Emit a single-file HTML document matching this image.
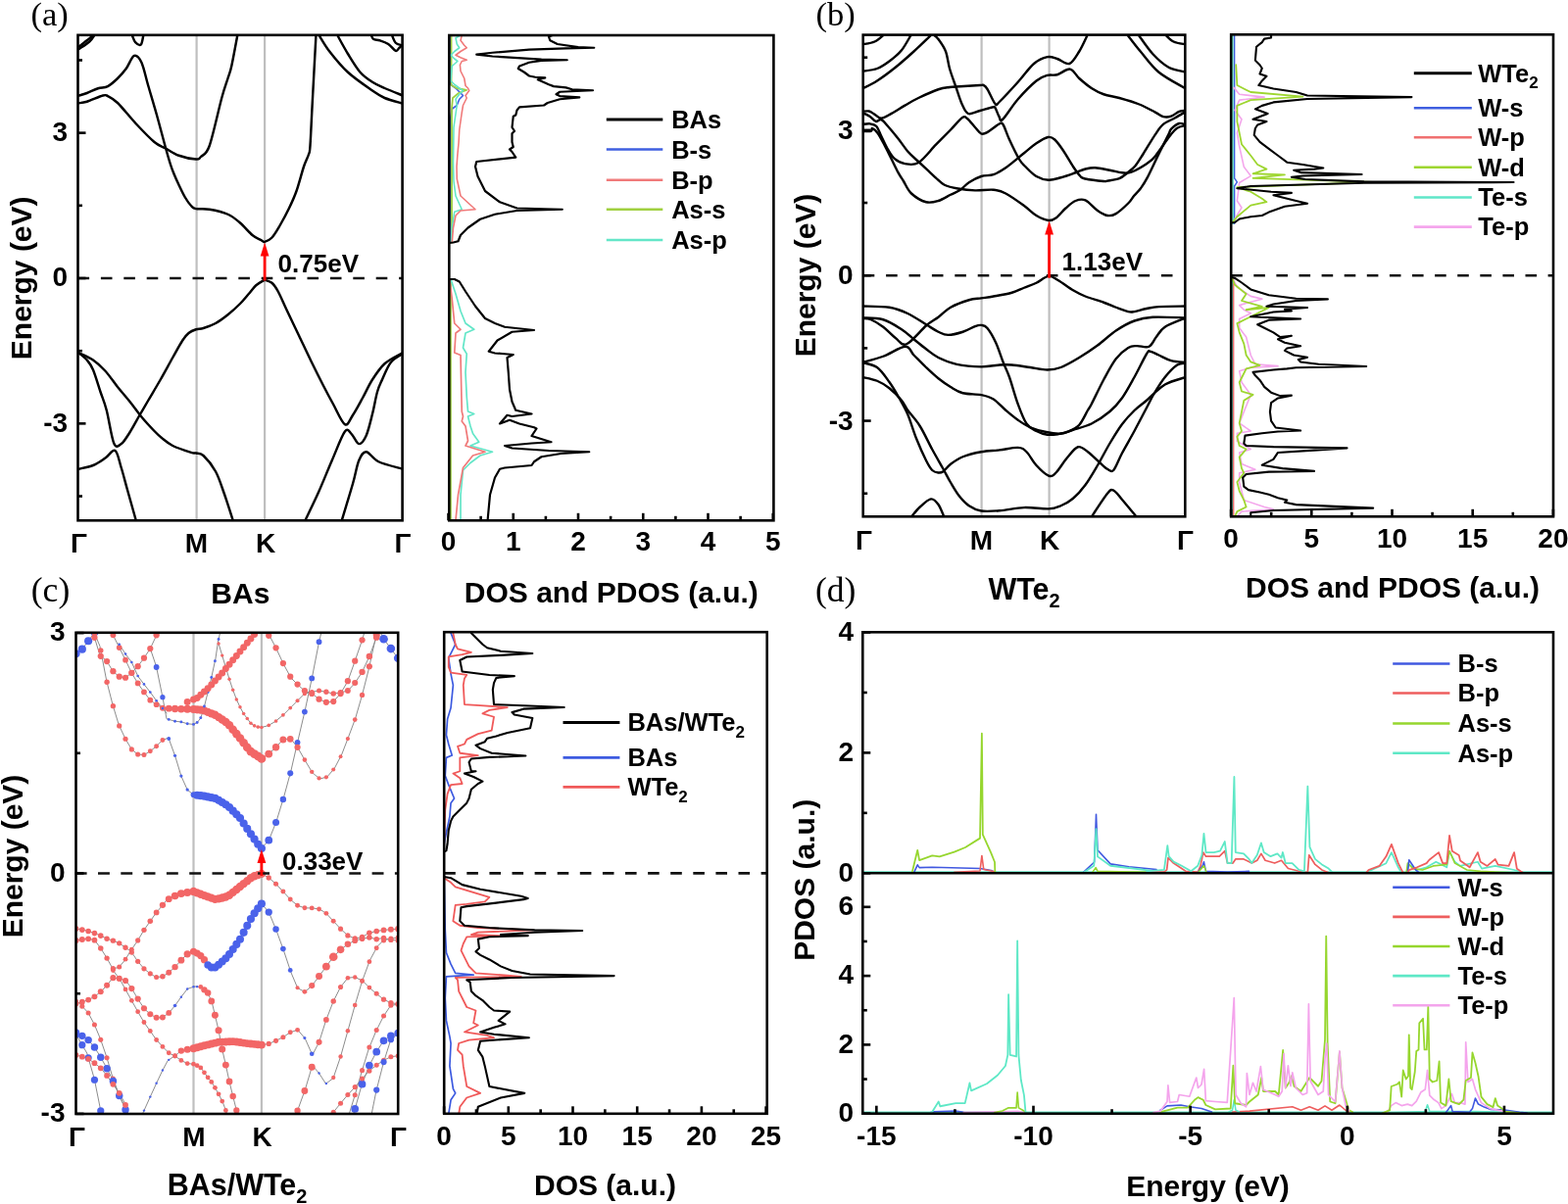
<!DOCTYPE html>
<html><head><meta charset="utf-8"><title>Band structure and DOS</title>
<style>html,body{margin:0;padding:0;background:#fff;}svg{display:block;}</style></head>
<body><svg width="1600" height="1229" viewBox="0 0 1600 1229">
<rect x="0" y="0" width="1600" height="1229" fill="#fff"/>
<clipPath id="ca"><rect x="79.5" y="35.8" width="331.1" height="495.5"/></clipPath>
<g clip-path="url(#ca)">
<line x1="200.6" y1="35.8" x2="200.6" y2="531.3" stroke="#bfbfbf" stroke-width="2.2" />
<line x1="270.1" y1="35.8" x2="270.1" y2="531.3" stroke="#bfbfbf" stroke-width="2.2" />
<path d="M80.6,47.5 C81.96,46.46 86.35,43.17 88.75,41.25 C91.15,39.33 93.96,36.88 95,36" fill="none" stroke="#000" stroke-width="2.45" stroke-linejoin="round" stroke-linecap="round" />
<path d="M80.6,50 C82.38,48.75 88.64,44.83 91.25,42.5 C93.86,40.17 95.42,37.08 96.25,36" fill="none" stroke="#000" stroke-width="2.45" stroke-linejoin="round" stroke-linecap="round" />
<path d="M135,36.5 C135.52,37.6 136.64,41.58 138.1,43.1 C139.56,44.62 142.39,46.7 143.75,45.6 C145.11,44.5 145.83,38.02 146.25,36.5" fill="none" stroke="#000" stroke-width="2.45" stroke-linejoin="round" stroke-linecap="round" />
<path d="M80,97.8 C81.46,97.33 85.42,96.26 88.75,95 C92.08,93.74 96.46,91.4 100,90.25 C103.54,89.1 106.67,89.81 110,88.1 C113.33,86.39 116.88,83.02 120,80 C123.12,76.98 125.93,73.85 128.75,70 C131.57,66.15 134.29,57.94 136.9,56.9 C139.51,55.86 142.01,58.65 144.4,63.75 C146.79,68.85 148.65,78.54 151.25,87.5 C153.85,96.46 157.08,107.08 160,117.5 C162.92,127.92 166.42,141.58 168.75,150 C171.08,158.42 172.54,163.42 174,168 C175.46,172.58 176.08,174.04 177.5,177.5 C178.92,180.96 180.62,184.79 182.5,188.75 C184.38,192.71 186.67,197.71 188.75,201.25 C190.83,204.79 193.12,208.03 195,210 C196.88,211.97 196.88,212.47 200,213.1 C203.12,213.72 208.33,212.81 213.75,213.75 C219.17,214.69 227.29,216.46 232.5,218.75 C237.71,221.04 240.83,223.96 245,227.5 C249.17,231.04 253.96,237.08 257.5,240 C261.04,242.92 264.17,243.85 266.25,245 C268.33,246.15 268.12,247.32 270,246.9 C271.88,246.48 275,245.11 277.5,242.5 C280,239.89 282.08,236.25 285,231.25 C287.92,226.25 292.08,218.54 295,212.5 C297.92,206.46 300,202.08 302.5,195 C305,187.92 307.92,176.25 310,170 C312.08,163.75 313.92,161.04 315,157.5 C316.08,153.96 315.88,157.5 316.5,148.75 C317.12,140 317.75,123.96 318.75,105 C319.75,86.04 321.88,46.67 322.5,35" fill="none" stroke="#000" stroke-width="2.45" stroke-linejoin="round" stroke-linecap="round" />
<path d="M80,105.3 C81.46,105.04 84.58,105.05 88.75,103.75 C92.92,102.45 101.46,98.44 105,97.5 C108.54,96.56 107.5,96.85 110,98.1 C112.5,99.35 115.21,100.31 120,105 C124.79,109.69 132.5,119.58 138.75,126.25 C145,132.92 152.5,140.83 157.5,145 C162.5,149.17 164.58,148.96 168.75,151.25 C172.92,153.54 177.29,156.88 182.5,158.75 C187.71,160.62 196.25,162.29 200,162.5 C203.75,162.71 202.71,162.29 205,160 C207.29,157.71 210.21,158.75 213.75,148.75 C217.29,138.75 223.12,111.46 226.25,100 C229.38,88.54 230.83,85.42 232.5,80 C234.17,74.58 234.58,75 236.25,67.5 C237.92,60 241.46,40.42 242.5,35" fill="none" stroke="#000" stroke-width="2.45" stroke-linejoin="round" stroke-linecap="round" />
<path d="M325,35 C326.88,37.92 331.25,46.04 336.25,52.5 C341.25,58.96 347.71,67.08 355,73.75 C362.29,80.42 373.75,88.12 380,92.5 C386.25,96.88 387.33,97.82 392.5,100 C397.67,102.18 407.92,104.67 411,105.6" fill="none" stroke="#000" stroke-width="2.45" stroke-linejoin="round" stroke-linecap="round" />
<path d="M343.75,35 C345.62,38.33 351.04,48.54 355,55 C358.96,61.46 363.33,68.96 367.5,73.75 C371.67,78.54 375.83,81.04 380,83.75 C384.17,86.46 387.33,87.71 392.5,90 C397.67,92.29 407.92,96.25 411,97.5" fill="none" stroke="#000" stroke-width="2.45" stroke-linejoin="round" stroke-linecap="round" />
<path d="M378.75,36 C379.17,36.67 379.79,39.12 381.25,40 C382.71,40.88 385,40.42 387.5,41.25 C390,42.08 393.54,43.23 396.25,45 C398.96,46.77 401.88,51.27 403.75,51.9 C405.62,52.52 406.29,49.69 407.5,48.75 C408.71,47.81 410.42,46.67 411,46.25" fill="none" stroke="#000" stroke-width="2.45" stroke-linejoin="round" stroke-linecap="round" />
<path d="M400,36 C400.62,37.29 402.08,42.04 403.75,43.75 C405.42,45.46 408.96,45.83 410,46.25" fill="none" stroke="#000" stroke-width="2.45" stroke-linejoin="round" stroke-linecap="round" />
<path d="M270,285.6 C268.54,286.54 263.96,288.85 261.25,291.25 C258.54,293.65 256.46,296.88 253.75,300 C251.04,303.12 248.54,306.46 245,310 C241.46,313.54 236.67,317.92 232.5,321.25 C228.33,324.58 224.17,327.71 220,330 C215.83,332.29 210.83,333.96 207.5,335 C204.17,336.04 202.5,335.42 200,336.25 C197.5,337.08 194.79,338.12 192.5,340 C190.21,341.88 188.96,343.33 186.25,347.5 C183.54,351.67 180,358.33 176.25,365 C172.5,371.67 167.92,380.21 163.75,387.5 C159.58,394.79 154.79,402.71 151.25,408.75 C147.71,414.79 145.62,418.33 142.5,423.75 C139.38,429.17 135.62,436.36 132.5,441.25 C129.38,446.14 126.46,451.23 123.75,453.1 C121.04,454.98 118.75,458.23 116.25,452.5 C113.75,446.77 111.04,427.5 108.75,418.75 C106.46,410 104.79,406.88 102.5,400 C100.21,393.12 97.29,382.92 95,377.5 C92.71,372.08 91.25,370.42 88.75,367.5 C86.25,364.58 81.46,361.25 80,360" fill="none" stroke="#000" stroke-width="2.45" stroke-linejoin="round" stroke-linecap="round" />
<path d="M80,360 C82.5,361.25 90.42,364.38 95,367.5 C99.58,370.62 103.33,374.17 107.5,378.75 C111.67,383.33 115.83,389.79 120,395 C124.17,400.21 128.33,404.79 132.5,410 C136.67,415.21 140.83,421.25 145,426.25 C149.17,431.25 154.17,436.54 157.5,440 C160.83,443.46 161.88,444.5 165,447 C168.12,449.5 171.25,452.52 176.25,455 C181.25,457.48 191.04,460.65 195,461.9 C198.96,463.15 197.92,461.98 200,462.5 C202.08,463.02 204.17,461.88 207.5,465 C210.83,468.12 216.46,474.79 220,481.25 C223.54,487.71 225.75,495.29 228.75,503.75 C231.75,512.21 236.46,527.29 238,532" fill="none" stroke="#000" stroke-width="2.45" stroke-linejoin="round" stroke-linecap="round" />
<path d="M80,478.75 C82.5,478.12 90.42,476.88 95,475 C99.58,473.12 103.75,470 107.5,467.5 C111.25,465 114.79,458.33 117.5,460 C120.21,461.67 121.67,470.83 123.75,477.5 C125.83,484.17 127.46,490.92 130,500 C132.54,509.08 137.5,526.67 139,532" fill="none" stroke="#000" stroke-width="2.45" stroke-linejoin="round" stroke-linecap="round" />
<path d="M270,285.6 C271.25,286.12 275.21,286.77 277.5,288.75 C279.79,290.73 281.25,292.92 283.75,297.5 C286.25,302.08 288.96,308.75 292.5,316.25 C296.04,323.75 300.83,333.75 305,342.5 C309.17,351.25 313.33,360.21 317.5,368.75 C321.67,377.29 326.25,386.46 330,393.75 C333.75,401.04 336.35,405.94 340,412.5 C343.65,419.06 348.57,431.23 351.9,433.1 C355.23,434.98 356.98,428.23 360,423.75 C363.02,419.27 366.67,412.29 370,406.25 C373.33,400.21 376.25,393.33 380,387.5 C383.75,381.67 387.71,375.62 392.5,371.25 C397.29,366.88 405.67,362.96 408.75,361.25 C411.83,359.54 410.62,361.04 411,361" fill="none" stroke="#000" stroke-width="2.45" stroke-linejoin="round" stroke-linecap="round" />
<path d="M411,361 C408.96,362.5 402.25,365.58 398.75,370 C395.25,374.42 392.29,382.5 390,387.5 C387.71,392.5 386.67,394.17 385,400 C383.33,405.83 381.88,415.1 380,422.5 C378.12,429.9 376.04,439.3 373.75,444.4 C371.46,449.5 368.75,453.32 366.25,453.1 C363.75,452.88 361.14,445.18 358.75,443.1 C356.36,441.02 355.23,436.12 351.9,440.6 C348.57,445.08 343.23,459.68 338.75,470 C334.27,480.32 329.62,492.17 325,502.5 C320.38,512.83 313.33,527.08 311,532" fill="none" stroke="#000" stroke-width="2.45" stroke-linejoin="round" stroke-linecap="round" />
<path d="M411,478.75 C406.88,477.5 392.46,474.17 386.25,471.25 C380.04,468.33 377.08,461.46 373.75,461.25 C370.42,461.04 368.54,464.58 366.25,470 C363.96,475.42 362.96,483.42 360,493.75 C357.04,504.08 350.42,525.62 348.5,532" fill="none" stroke="#000" stroke-width="2.45" stroke-linejoin="round" stroke-linecap="round" />
</g>
<line x1="79.5" y1="284" x2="410.6" y2="284" stroke="#111" stroke-width="2.6" stroke-dasharray="11.6 11.8"/>
<line x1="270.1" y1="286.5" x2="270.1" y2="259.5" stroke="#f00" stroke-width="2.8" />
<polygon points="270.1,247.5 265.7,261.5 274.5,261.5" fill="#f00"/>
<text transform="translate(283.6 278.3)" font-family='"Liberation Sans", Arial, sans-serif' font-size="26" font-weight="bold" text-anchor="start" >0.75eV</text>
<rect x="79.5" y="35.8" width="331.1" height="495.5" fill="none" stroke="#000" stroke-width="2.6"/>
<line x1="79.5" y1="135.65" x2="87.5" y2="135.65" stroke="#000" stroke-width="2.6" />
<line x1="79.5" y1="209.82" x2="84" y2="209.82" stroke="#000" stroke-width="2.6" />
<line x1="79.5" y1="284" x2="87.5" y2="284" stroke="#000" stroke-width="2.6" />
<line x1="79.5" y1="358.18" x2="84" y2="358.18" stroke="#000" stroke-width="2.6" />
<line x1="79.5" y1="432.35" x2="87.5" y2="432.35" stroke="#000" stroke-width="2.6" />
<line x1="79.5" y1="506.52" x2="84" y2="506.52" stroke="#000" stroke-width="2.6" />
<line x1="79.5" y1="61.47" x2="84" y2="61.47" stroke="#000" stroke-width="2.6" />
<text transform="translate(69.1 143.95)" font-family='"Liberation Sans", Arial, sans-serif' font-size="28" font-weight="bold" text-anchor="end" >3</text>
<text transform="translate(69.1 292.3)" font-family='"Liberation Sans", Arial, sans-serif' font-size="28" font-weight="bold" text-anchor="end" >0</text>
<text transform="translate(69.1 440.65)" font-family='"Liberation Sans", Arial, sans-serif' font-size="28" font-weight="bold" text-anchor="end" >-3</text>
<text transform="translate(80.5 563.8)" font-family='"Liberation Sans", Arial, sans-serif' font-size="28" font-weight="bold" text-anchor="middle" >Γ</text>
<text transform="translate(200.3 563.8)" font-family='"Liberation Sans", Arial, sans-serif' font-size="28" font-weight="bold" text-anchor="middle" >M</text>
<text transform="translate(271 563.8)" font-family='"Liberation Sans", Arial, sans-serif' font-size="28" font-weight="bold" text-anchor="middle" >K</text>
<text transform="translate(411 563.8)" font-family='"Liberation Sans", Arial, sans-serif' font-size="28" font-weight="bold" text-anchor="middle" >Γ</text>
<text transform="translate(245.3 616.2)" font-family='"Liberation Sans", Arial, sans-serif' font-size="30" font-weight="bold" text-anchor="middle" >BAs</text>
<text transform="translate(31.5 283.8) rotate(-90)" font-family='"Liberation Sans", Arial, sans-serif' font-size="30" font-weight="bold" text-anchor="middle" >Energy (eV)</text>
<text transform="translate(31.5 26)" font-family='"Liberation Serif", "Times New Roman", serif' font-size="34.5" font-weight="normal" text-anchor="start" >(a)</text>
<clipPath id="cad"><rect x="458.3" y="36" width="331.1" height="495.3"/></clipPath>
<g clip-path="url(#cad)">
<path d="M459.6,36 L459.6,86 L465,90 L472.5,97.5 L468.75,101.25 L466.25,107.5 L461.25,111.25 L459.8,120 L459.8,247.5" fill="none" stroke="#3f5fe0" stroke-width="1.6" stroke-linejoin="round" stroke-linecap="round" />
<path d="M460.5,36 L460.5,87 L466,90 L476,92 L468,95 L462,100 L461,110 L461,247.5" fill="none" stroke="#a0d040" stroke-width="1.8" stroke-linejoin="round" stroke-linecap="round" />
<path d="M470,36 L465,38.75 L466.25,45 L468.75,48.75 L463.75,52.5 L460,56.25 L463.75,60 L466.9,62.5 L461.25,67.5 L460,82.5 L463.75,86.25 L468.75,90 L472.5,92.5 L468.75,96.25 L465,101.25 L466.25,107.5 L463,130 L462.5,165 L463,185 L465,200 L471.25,213.75 L463.75,216.25 L461.25,232.5 L460,247.5" fill="none" stroke="#64e6c8" stroke-width="1.6" stroke-linejoin="round" stroke-linecap="round" />
<path d="M471.25,36 L470,41.25 L473.75,46.25 L476.25,48.75 L470,52.5 L465,56.25 L470,58.75 L476.25,61.25 L471.25,62.5 L469.4,66.25 L470,72.5 L473.75,80 L475,87.5 L477.5,90 L478.75,92.5 L475,97.5 L476.25,100 L472.5,107.5 L471.25,115 L470,123.75 L468.75,132.5 L468.1,145 L466.9,157.5 L466,170 L466.25,182.5 L470,200 L485,213.75 L470,215 L465,220 L462.5,232.5 L461.25,247.5" fill="none" stroke="#f07a7a" stroke-width="1.6" stroke-linejoin="round" stroke-linecap="round" />
<path d="M459.3,285 L459.3,531" fill="none" stroke="#3f5fe0" stroke-width="1.6" stroke-linejoin="round" stroke-linecap="round" />
<path d="M459.8,285 L459.8,531" fill="none" stroke="#a0d040" stroke-width="2.0" stroke-linejoin="round" stroke-linecap="round" />
<path d="M460,285 L465,300 L470,317.5 L475,330 L483.75,336.25 L475,340 L472.5,355 L476.25,361.25 L475,380 L476.25,405 L477.5,420 L483.75,422.5 L477.5,425 L480,435 L482.5,442.5 L488.75,451.25 L480,455 L502.5,461.25 L490,465 L480,472.5 L472.5,480 L470,505 L470,531" fill="none" stroke="#64e6c8" stroke-width="1.7" stroke-linejoin="round" stroke-linecap="round" />
<path d="M458.75,285 L461.25,305 L463.75,330 L470,336.25 L465,340 L463.75,360 L470,362.5 L471.25,420 L472.5,425 L471.25,430 L475,435 L477.5,450 L475,455 L495,461.25 L482.5,465 L472.5,477.5 L467.5,505 L465,531" fill="none" stroke="#f07a7a" stroke-width="1.7" stroke-linejoin="round" stroke-linecap="round" />
<path d="M566,35 L560,37.5 L561.25,41.25 L568.75,45 L590,48.1 L606.25,48.75 L577.5,49.4 L540,50.6 L502.5,53.75 L486.25,55.6 L502.5,57.5 L552.5,60.6 L578.75,61.25 L552.5,61.9 L540,63.75 L530,67.5 L528.75,70 L535,73.75 L540,77.5 L546.25,78.75 L556.25,79.4 L548.75,81.25 L560,86.25 L565,88.1 L577.5,89.4 L583.75,91.25 L605,92.25 L571.25,93.75 L567.5,96.25 L571.25,98.1 L591.25,99.4 L571.25,101.25 L558.75,105 L555,107.5 L530,109.4 L527.5,112.5 L526.25,117.5 L523.75,118.75 L522.5,130 L525,133.75 L522.5,136.25 L522.5,145 L523.75,150 L520,152.5 L522.5,155 L526.25,160.6 L486.25,165 L485,170 L487.5,180 L495,195 L510,206.25 L527.5,212.5 L573.75,213.75 L527.5,215 L505,218.75 L490,223.75 L477.5,232.5 L470,240 L467.5,246.25 L462.5,247.5 L458,248" fill="none" stroke="#000" stroke-width="2.2" stroke-linejoin="round" stroke-linecap="round" />
<path d="M458,285 L463.75,285 L468.75,287.5 L475,297.5 L485,312.5 L495,325 L505,330 L515,333.75 L545,337 L522.5,338.75 L507.5,347.5 L498.75,358.75 L505,360.5 L515,361.25 L523.75,362 L517.5,365 L518.75,380 L520,397.5 L522.5,410 L526.25,418.75 L542.5,422.5 L522.5,425 L517.5,423.75 L510,432.5 L520,428.75 L530,432.5 L545,436.25 L547.5,437.5 L542.5,445 L562.5,451.25 L542.5,452.5 L515,455 L522.5,457.5 L560,460 L601.25,461.25 L572.5,463 L552.5,466.25 L545,471.25 L542.5,475 L515,477.5 L510,478.75 L505,487.5 L500,505 L497.5,532" fill="none" stroke="#000" stroke-width="2.2" stroke-linejoin="round" stroke-linecap="round" />
</g>
<rect x="458.3" y="36" width="331.1" height="495.3" fill="none" stroke="#000" stroke-width="2.6"/>
<line x1="618.8" y1="122" x2="676.3" y2="122" stroke="#000" stroke-width="3.0" />
<text transform="translate(685.2 131.3)" font-family='"Liberation Sans", Arial, sans-serif' font-size="25.5" font-weight="bold" text-anchor="start" >BAs</text>
<line x1="618.8" y1="152.5" x2="676.3" y2="152.5" stroke="#3f5fe0" stroke-width="2.6" />
<text transform="translate(685.2 161.8)" font-family='"Liberation Sans", Arial, sans-serif' font-size="25.5" font-weight="bold" text-anchor="start" >B-s</text>
<line x1="618.8" y1="183.75" x2="676.3" y2="183.75" stroke="#f07a7a" stroke-width="2.6" />
<text transform="translate(685.2 193.05)" font-family='"Liberation Sans", Arial, sans-serif' font-size="25.5" font-weight="bold" text-anchor="start" >B-p</text>
<line x1="618.8" y1="213.75" x2="676.3" y2="213.75" stroke="#a0d040" stroke-width="2.6" />
<text transform="translate(685.2 223.05)" font-family='"Liberation Sans", Arial, sans-serif' font-size="25.5" font-weight="bold" text-anchor="start" >As-s</text>
<line x1="618.8" y1="245" x2="676.3" y2="245" stroke="#64e6c8" stroke-width="2.6" />
<text transform="translate(685.2 254.3)" font-family='"Liberation Sans", Arial, sans-serif' font-size="25.5" font-weight="bold" text-anchor="start" >As-p</text>
<line x1="457.5" y1="531.3" x2="457.5" y2="523.8" stroke="#000" stroke-width="2.6" />
<text transform="translate(457.5 562.4)" font-family='"Liberation Sans", Arial, sans-serif' font-size="28" font-weight="bold" text-anchor="middle" >0</text>
<line x1="523.75" y1="531.3" x2="523.75" y2="523.8" stroke="#000" stroke-width="2.6" />
<text transform="translate(523.75 562.4)" font-family='"Liberation Sans", Arial, sans-serif' font-size="28" font-weight="bold" text-anchor="middle" >1</text>
<line x1="590" y1="531.3" x2="590" y2="523.8" stroke="#000" stroke-width="2.6" />
<text transform="translate(590 562.4)" font-family='"Liberation Sans", Arial, sans-serif' font-size="28" font-weight="bold" text-anchor="middle" >2</text>
<line x1="656.25" y1="531.3" x2="656.25" y2="523.8" stroke="#000" stroke-width="2.6" />
<text transform="translate(656.25 562.4)" font-family='"Liberation Sans", Arial, sans-serif' font-size="28" font-weight="bold" text-anchor="middle" >3</text>
<line x1="722.5" y1="531.3" x2="722.5" y2="523.8" stroke="#000" stroke-width="2.6" />
<text transform="translate(722.5 562.4)" font-family='"Liberation Sans", Arial, sans-serif' font-size="28" font-weight="bold" text-anchor="middle" >4</text>
<line x1="788.75" y1="531.3" x2="788.75" y2="523.8" stroke="#000" stroke-width="2.6" />
<text transform="translate(788.75 562.4)" font-family='"Liberation Sans", Arial, sans-serif' font-size="28" font-weight="bold" text-anchor="middle" >5</text>
<line x1="490.62" y1="531.3" x2="490.62" y2="526.8" stroke="#000" stroke-width="2.6" />
<line x1="556.88" y1="531.3" x2="556.88" y2="526.8" stroke="#000" stroke-width="2.6" />
<line x1="623.12" y1="531.3" x2="623.12" y2="526.8" stroke="#000" stroke-width="2.6" />
<line x1="689.38" y1="531.3" x2="689.38" y2="526.8" stroke="#000" stroke-width="2.6" />
<line x1="755.62" y1="531.3" x2="755.62" y2="526.8" stroke="#000" stroke-width="2.6" />
<text transform="translate(623.8 615.2)" font-family='"Liberation Sans", Arial, sans-serif' font-size="30" font-weight="bold" text-anchor="middle" >DOS and PDOS (a.u.)</text>
<clipPath id="cb"><rect x="880.7" y="35.6" width="328.6" height="491.7"/></clipPath>
<g clip-path="url(#cb)">
<line x1="1001.6" y1="35.6" x2="1001.6" y2="527.3" stroke="#bfbfbf" stroke-width="2.2" />
<line x1="1070.6" y1="35.6" x2="1070.6" y2="527.3" stroke="#bfbfbf" stroke-width="2.2" />
<path d="M880,90.5 C882.5,89.17 889.38,86.12 895,82.5 C900.62,78.88 907.5,73.75 913.75,68.75 C920,63.75 926.29,58.12 932.5,52.5 C938.71,46.88 947.92,37.92 951,35" fill="none" stroke="#000" stroke-width="2.4" stroke-linejoin="round" stroke-linecap="round" />
<path d="M880,45.3 C882.08,44.83 888.75,44.22 892.5,42.5 C896.25,40.78 900.83,36.25 902.5,35" fill="none" stroke="#000" stroke-width="2.4" stroke-linejoin="round" stroke-linecap="round" />
<path d="M880,72.8 C882.5,72.33 890.42,71.72 895,70 C899.58,68.28 903.33,65.62 907.5,62.5 C911.67,59.38 916.25,55.83 920,51.25 C923.75,46.67 928.33,37.71 930,35" fill="none" stroke="#000" stroke-width="2.4" stroke-linejoin="round" stroke-linecap="round" />
<path d="M949,35 C949.67,35.17 951.58,35.17 953,36 C954.42,36.83 955.5,37.25 957.5,40 C959.5,42.75 963.08,47.5 965,52.5 C966.92,57.5 967.25,63.92 969,70 C970.75,76.08 973.42,83 975.5,89 C977.58,95 979.42,101.5 981.5,106 C983.58,110.5 984.92,114.83 988,116 C991.08,117.17 995.92,114.08 1000,113 C1004.08,111.92 1009.92,110 1012.5,109.5 C1015.08,109 1014.33,108.42 1015.5,110 C1016.67,111.58 1018.25,117 1019.5,119 C1020.75,121 1019.79,124.96 1023,122 C1026.21,119.04 1033,107.83 1038.75,101.25 C1044.5,94.67 1052.5,86.56 1057.5,82.5 C1062.5,78.44 1065.21,77.94 1068.75,76.9 C1072.29,75.86 1074.89,77.3 1078.75,76.25 C1082.61,75.2 1088.15,69.97 1091.9,70.6 C1095.65,71.22 1097.61,76.77 1101.25,80 C1104.89,83.23 1109.58,87.29 1113.75,90 C1117.92,92.71 1121.51,94.58 1126.25,96.25 C1130.99,97.92 1136.16,98.29 1142.2,100 C1148.24,101.71 1156.4,104.07 1162.5,106.5 C1168.6,108.93 1174.72,112.5 1178.8,114.6 C1182.88,116.7 1184.28,118.42 1187,119.1 C1189.72,119.78 1192.4,119.58 1195.1,118.7 C1197.8,117.82 1200.72,114.75 1203.2,113.8 C1205.68,112.85 1208.87,113.13 1210,113" fill="none" stroke="#000" stroke-width="2.4" stroke-linejoin="round" stroke-linecap="round" />
<path d="M880,113.8 C881.13,113.75 884.75,113.03 886.8,113.5 C888.85,113.97 890.23,115.4 892.3,116.6 C894.37,117.8 896.32,120.82 899.2,120.7 C902.08,120.58 905.57,118.08 909.6,115.9 C913.63,113.72 918.8,110.25 923.4,107.6 C928,104.95 931.52,102.72 937.2,100 C942.88,97.28 952.2,93.08 957.5,91.25 C962.8,89.42 966,89.46 969,89 C972,88.54 970.33,88.83 975.5,88.5 C980.67,88.17 995.33,87.25 1000,87 C1004.67,86.75 1002.25,86.33 1003.5,87 C1004.75,87.67 1005.5,87.83 1007.5,91 C1009.5,94.17 1013.42,103.88 1015.5,106 C1017.58,108.12 1016.12,107.46 1020,103.75 C1023.88,100.04 1032.92,90.21 1038.75,83.75 C1044.58,77.29 1050,69.28 1055,65 C1060,60.73 1064.79,58.93 1068.75,58.1 C1072.71,57.27 1075,58.85 1078.75,60 C1082.5,61.15 1087.5,66.25 1091.25,65 C1095,63.75 1098.12,57.5 1101.25,52.5 C1104.38,47.5 1108.54,37.92 1110,35" fill="none" stroke="#000" stroke-width="2.4" stroke-linejoin="round" stroke-linecap="round" />
<path d="M880,114.9 C881.23,115.53 885.12,117.2 887.4,118.7 C889.68,120.2 891.73,123.33 893.7,123.9 C895.67,124.47 897.13,121.25 899.2,122.1 C901.27,122.95 903.22,125.77 906.1,129 C908.98,132.23 913.03,137.12 916.5,141.5 C919.97,145.88 923.45,151.38 926.9,155.3 C930.35,159.22 933.75,161.77 937.2,165 C940.65,168.23 944.63,171.93 947.6,174.7 C950.57,177.47 952.31,179.26 955,181.6 C957.69,183.94 960,186.93 963.75,188.75 C967.5,190.57 972.29,191.56 977.5,192.5 C982.71,193.44 988.96,194.19 995,194.4 C1001.04,194.61 1008.54,193.23 1013.75,193.75 C1018.96,194.27 1021.04,194.79 1026.25,197.5 C1031.46,200.21 1039.79,206.25 1045,210 C1050.21,213.75 1053.33,217.5 1057.5,220 C1061.67,222.5 1066.67,224.58 1070,225 C1073.33,225.42 1074.58,224.58 1077.5,222.5 C1080.42,220.42 1084.17,215.42 1087.5,212.5 C1090.83,209.58 1094.17,206.35 1097.5,205 C1100.83,203.65 1103.75,202.73 1107.5,204.4 C1111.25,206.07 1116.25,212.4 1120,215 C1123.75,217.6 1126.88,219.48 1130,220 C1133.12,220.52 1135.21,220.18 1138.75,218.1 C1142.29,216.02 1148.21,210.52 1151.25,207.5 C1154.29,204.48 1154.92,202.5 1157,200 C1159.08,197.5 1161.47,195.6 1163.75,192.5 C1166.03,189.4 1167.51,187.47 1170.7,181.4 C1173.89,175.33 1179.23,163.57 1182.9,156.1 C1186.57,148.63 1190.67,140.67 1192.7,136.6 C1194.73,132.53 1193.35,133.47 1195.1,131.7 C1196.85,129.93 1200.72,126.67 1203.2,126 C1205.68,125.33 1208.87,127.42 1210,127.7" fill="none" stroke="#000" stroke-width="2.4" stroke-linejoin="round" stroke-linecap="round" />
<path d="M880,127 C881.23,126.88 885,125.97 887.4,126.3 C889.8,126.63 892.43,126.93 894.4,129 C896.37,131.07 897.25,134.77 899.2,138.7 C901.15,142.63 903.8,148.68 906.1,152.6 C908.4,156.52 910.12,159.78 913,162.2 C915.88,164.62 919.37,166.47 923.4,167.1 C927.43,167.73 931.93,169.23 937.2,166 C942.47,162.77 949.53,153.28 955,147.7 C960.47,142.12 965.5,137.12 970,132.5 C974.5,127.88 979.17,121.92 982,120 C984.83,118.08 984.83,119.33 987,121 C989.17,122.67 992.62,127.42 995,130 C997.38,132.58 999.17,135.67 1001.25,136.5 C1003.33,137.33 1004.38,136.71 1007.5,135 C1010.62,133.29 1017.29,127.5 1020,126.25 C1022.71,125 1022.08,124.79 1023.75,127.5 C1025.42,130.21 1027.29,136.67 1030,142.5 C1032.71,148.33 1037.29,157.92 1040,162.5 C1042.71,167.08 1043.33,167.08 1046.25,170 C1049.17,172.92 1053.54,177.71 1057.5,180 C1061.46,182.29 1065.83,183.54 1070,183.75 C1074.17,183.96 1077.92,182.5 1082.5,181.25 C1087.08,180 1093.33,177.71 1097.5,176.25 C1101.67,174.79 1104.17,173.33 1107.5,172.5 C1110.83,171.67 1113.33,171.04 1117.5,171.25 C1121.67,171.46 1127.92,172.92 1132.5,173.75 C1137.08,174.58 1141.35,175.93 1145,176.25 C1148.65,176.57 1150.12,177.29 1154.4,175.7 C1158.68,174.11 1166.63,169.42 1170.7,166.7 C1174.77,163.98 1175,164 1178.8,159.4 C1182.6,154.8 1189.83,143.85 1193.5,139.1 C1197.17,134.35 1198.05,132.75 1200.8,130.9 C1203.55,129.05 1208.47,128.48 1210,128" fill="none" stroke="#000" stroke-width="2.4" stroke-linejoin="round" stroke-linecap="round" />
<path d="M880,133.9 C881.47,133.9 887.1,134.37 888.8,133.9 C890.5,133.43 889.05,130.75 890.2,131.1 C891.35,131.45 893.62,133.12 895.7,136 C897.78,138.88 900.38,144.03 902.7,148.4 C905.02,152.77 907.3,157.58 909.6,162.2 C911.9,166.82 914.43,172.3 916.5,176.1 C918.57,179.9 919.75,181.43 922,185 C924.25,188.57 926.17,193.96 930,197.5 C933.83,201.04 940.42,205 945,206.25 C949.58,207.5 953.33,206.25 957.5,205 C961.67,203.75 966.25,200.62 970,198.75 C973.75,196.88 976.88,195.83 980,193.75 C983.12,191.67 985.21,188.54 988.75,186.25 C992.29,183.96 997.08,181.36 1001.25,180 C1005.42,178.64 1009.58,179.56 1013.75,178.1 C1017.92,176.64 1021.04,174.89 1026.25,171.25 C1031.46,167.61 1039.79,160.42 1045,156.25 C1050.21,152.08 1053.43,148.96 1057.5,146.25 C1061.57,143.54 1066.28,140.62 1069.4,140 C1072.53,139.38 1073.65,140.21 1076.25,142.5 C1078.85,144.79 1081.88,149.17 1085,153.75 C1088.12,158.33 1092.08,165.62 1095,170 C1097.92,174.38 1100.42,177.92 1102.5,180 C1104.58,182.08 1103.54,181.67 1107.5,182.5 C1111.46,183.33 1122.5,184.65 1126.25,185 C1130,185.35 1127.34,185.07 1130,184.6 C1132.66,184.13 1138.82,183.55 1142.2,182.2 C1145.58,180.85 1147.58,178.67 1150.3,176.5 C1153.02,174.33 1155.78,172.45 1158.5,169.2 C1161.22,165.95 1163.22,162.3 1166.6,157 C1169.98,151.7 1175.4,142.42 1178.8,137.4 C1182.2,132.38 1183.6,129.75 1187,126.9 C1190.4,124.05 1195.37,122.48 1199.2,120.3 C1203.03,118.12 1208.2,114.88 1210,113.8" fill="none" stroke="#000" stroke-width="2.4" stroke-linejoin="round" stroke-linecap="round" />
<path d="M1150,35 C1152.29,37.92 1158.33,46.04 1163.75,52.5 C1169.17,58.96 1174.79,67.42 1182.5,73.75 C1190.21,80.08 1205.42,87.71 1210,90.5" fill="none" stroke="#000" stroke-width="2.4" stroke-linejoin="round" stroke-linecap="round" />
<path d="M1161.25,35 C1163.75,38.33 1171.04,49.38 1176.25,55 C1181.46,60.62 1186.88,65.67 1192.5,68.75 C1198.12,71.83 1207.08,72.71 1210,73.5" fill="none" stroke="#000" stroke-width="2.4" stroke-linejoin="round" stroke-linecap="round" />
<path d="M1188.75,35 C1190.21,36.25 1193.96,40.78 1197.5,42.5 C1201.04,44.22 1207.92,44.83 1210,45.3" fill="none" stroke="#000" stroke-width="2.4" stroke-linejoin="round" stroke-linecap="round" />
<path d="M880,325 C881.46,325.21 885.21,324.79 888.75,326.25 C892.29,327.71 897.08,330.62 901.25,333.75 C905.42,336.88 909.79,342.08 913.75,345 C917.71,347.92 919.79,353.33 925,351.25 C930.21,349.17 939.58,337.08 945,332.5 C950.42,327.92 953.33,326.88 957.5,323.75 C961.67,320.62 964.79,316.67 970,313.75 C975.21,310.83 983.54,307.81 988.75,306.25 C993.96,304.69 997.08,305.02 1001.25,304.4 C1005.42,303.77 1008.54,303.44 1013.75,302.5 C1018.96,301.56 1027.29,300.21 1032.5,298.75 C1037.71,297.29 1040.83,295.42 1045,293.75 C1049.17,292.08 1053.33,290.73 1057.5,288.75 C1061.67,286.77 1066.25,282.32 1070,281.9 C1073.75,281.48 1075.83,283.86 1080,286.25 C1084.17,288.64 1090.42,293.54 1095,296.25 C1099.58,298.96 1102.29,300.42 1107.5,302.5 C1112.71,304.58 1121.04,306.88 1126.25,308.75 C1131.46,310.62 1134.58,312.19 1138.75,313.75 C1142.92,315.31 1148.12,317.38 1151.25,318.1 C1154.38,318.83 1154.38,318.62 1157.5,318.1 C1160.62,317.58 1165.83,315.83 1170,315 C1174.17,314.17 1175.83,313.52 1182.5,313.1 C1189.17,312.68 1205.42,312.6 1210,312.5" fill="none" stroke="#000" stroke-width="2.4" stroke-linejoin="round" stroke-linecap="round" />
<path d="M880,312.5 C884.58,312.71 899.79,312.5 907.5,313.75 C915.21,315 920,317.08 926.25,320 C932.5,322.92 939.79,328.12 945,331.25 C950.21,334.38 953.75,336.98 957.5,338.75 C961.25,340.52 963.33,341.9 967.5,341.9 C971.67,341.9 977.92,340.22 982.5,338.75 C987.08,337.28 991.88,334.24 995,333.1 C998.12,331.96 999.17,331.58 1001.25,331.9 C1003.33,332.22 1005,331.98 1007.5,335 C1010,338.02 1013.54,344.17 1016.25,350 C1018.96,355.83 1021.46,364.17 1023.75,370 C1026.04,375.83 1027.5,377.92 1030,385 C1032.5,392.08 1035.83,404.58 1038.75,412.5 C1041.67,420.42 1044.38,427.92 1047.5,432.5 C1050.62,437.08 1053.96,438.12 1057.5,440 C1061.04,441.88 1065,443.23 1068.75,443.75 C1072.5,444.27 1076.46,443.62 1080,443.1 C1083.54,442.58 1086.46,442.16 1090,440.6 C1093.54,439.04 1097.92,437.39 1101.25,433.75 C1104.58,430.11 1107.92,422.29 1110,418.75 C1112.08,415.21 1111.04,417.71 1113.75,412.5 C1116.46,407.29 1122.08,395.21 1126.25,387.5 C1130.42,379.79 1134.58,371.67 1138.75,366.25 C1142.92,360.83 1147.71,357.19 1151.25,355 C1154.79,352.81 1156.46,353.31 1160,353.1 C1163.54,352.89 1169.17,355.31 1172.5,353.75 C1175.83,352.19 1177.29,347.08 1180,343.75 C1182.71,340.42 1183.75,336.98 1188.75,333.75 C1193.75,330.52 1206.46,325.96 1210,324.4" fill="none" stroke="#000" stroke-width="2.4" stroke-linejoin="round" stroke-linecap="round" />
<path d="M880,324.4 C883.54,324.71 894.58,324.27 901.25,326.25 C907.92,328.23 914.79,332.92 920,336.25 C925.21,339.58 928.33,342.92 932.5,346.25 C936.67,349.58 940.83,353.12 945,356.25 C949.17,359.38 952.29,362.39 957.5,365 C962.71,367.61 968.96,370.33 976.25,371.9 C983.54,373.47 993.96,374.3 1001.25,374.4 C1008.54,374.5 1014.79,372.82 1020,372.5 C1025.21,372.18 1027.29,372.08 1032.5,372.5 C1037.71,372.92 1045.21,374.17 1051.25,375 C1057.29,375.83 1063.54,377.5 1068.75,377.5 C1073.96,377.5 1077.08,377.08 1082.5,375 C1087.92,372.92 1095,368.75 1101.25,365 C1107.5,361.25 1113.75,357.08 1120,352.5 C1126.25,347.92 1132.5,341.67 1138.75,337.5 C1145,333.33 1151.25,329.79 1157.5,327.5 C1163.75,325.21 1167.5,324.27 1176.25,323.75 C1185,323.23 1204.38,324.29 1210,324.4" fill="none" stroke="#000" stroke-width="2.4" stroke-linejoin="round" stroke-linecap="round" />
<path d="M880,370 C883.54,368.96 893.96,366.46 901.25,363.75 C908.54,361.04 918.54,353.96 923.75,353.75 C928.96,353.54 928.96,358.96 932.5,362.5 C936.04,366.04 940.83,371.04 945,375 C949.17,378.96 953.33,382.92 957.5,386.25 C961.67,389.58 965.83,392.5 970,395 C974.17,397.5 977.29,399.9 982.5,401.25 C987.71,402.6 996.04,402.06 1001.25,403.1 C1006.46,404.14 1009.58,404.89 1013.75,407.5 C1017.92,410.11 1022.08,415.21 1026.25,418.75 C1030.42,422.29 1034.58,425.83 1038.75,428.75 C1042.92,431.67 1046.46,434.21 1051.25,436.25 C1056.04,438.29 1062.29,439.96 1067.5,441 C1072.71,442.04 1077.92,442.88 1082.5,442.5 C1087.08,442.12 1089.79,440.42 1095,438.75 C1100.21,437.08 1107.5,435.62 1113.75,432.5 C1120,429.38 1127.29,424.38 1132.5,420 C1137.71,415.62 1140.83,412.08 1145,406.25 C1149.17,400.42 1153.33,392.5 1157.5,385 C1161.67,377.5 1167.29,365.62 1170,361.25 C1172.71,356.88 1171.67,358.54 1173.75,358.75 C1175.83,358.96 1178.96,360.94 1182.5,362.5 C1186.04,364.06 1190.42,366.85 1195,368.1 C1199.58,369.35 1207.5,369.68 1210,370" fill="none" stroke="#000" stroke-width="2.4" stroke-linejoin="round" stroke-linecap="round" />
<path d="M880,370 C882.5,370.83 890.42,371.67 895,375 C899.58,378.33 903.75,384.79 907.5,390 C911.25,395.21 914.38,400.75 917.5,406.25 C920.62,411.75 923.33,416.12 926.25,423 C929.17,429.88 931.88,439.67 935,447.5 C938.12,455.33 942.29,464.58 945,470 C947.71,475.42 949.17,477.92 951.25,480 C953.33,482.08 955.62,482.29 957.5,482.5 C959.38,482.71 960.42,482.71 962.5,481.25 C964.58,479.79 966.67,476.25 970,473.75 C973.33,471.25 977.29,468.33 982.5,466.25 C987.71,464.17 995,462.39 1001.25,461.25 C1007.5,460.11 1013.75,460.12 1020,459.4 C1026.25,458.67 1034.17,456.59 1038.75,456.9 C1043.33,457.21 1044.38,458.23 1047.5,461.25 C1050.62,464.27 1053.75,470.94 1057.5,475 C1061.25,479.06 1066.67,484.35 1070,485.6 C1073.33,486.85 1074.38,485.52 1077.5,482.5 C1080.62,479.48 1085,471.88 1088.75,467.5 C1092.5,463.12 1096.46,457.29 1100,456.25 C1103.54,455.21 1106.46,458.75 1110,461.25 C1113.54,463.75 1117.92,468.33 1121.25,471.25 C1124.58,474.17 1127.5,477.29 1130,478.75 C1132.5,480.21 1133.75,482.71 1136.25,480 C1138.75,477.29 1141.46,469.17 1145,462.5 C1148.54,455.83 1153.33,447.71 1157.5,440 C1161.67,432.29 1166.67,422.58 1170,416.25 C1173.33,409.92 1174.38,407.21 1177.5,402 C1180.62,396.79 1184.79,389.92 1188.75,385 C1192.71,380.08 1197.71,374.9 1201.25,372.5 C1204.79,370.1 1208.54,370.92 1210,370.6" fill="none" stroke="#000" stroke-width="2.4" stroke-linejoin="round" stroke-linecap="round" />
<path d="M880,385 C882.5,385.62 890.42,386.88 895,388.75 C899.58,390.62 903.33,392.92 907.5,396.25 C911.67,399.58 916.88,405 920,408.75 C923.12,412.5 923.12,414.38 926.25,418.75 C929.38,423.12 934.58,428.33 938.75,435 C942.92,441.67 947.29,451.46 951.25,458.75 C955.21,466.04 959.38,473.12 962.5,478.75 C965.62,484.38 967.29,487.92 970,492.5 C972.71,497.08 975.62,502.29 978.75,506.25 C981.88,510.21 985,513.71 988.75,516.25 C992.5,518.79 996.04,520.67 1001.25,521.5 C1006.46,522.33 1012.71,521.82 1020,521.25 C1027.29,520.68 1036.67,518.41 1045,518.1 C1053.33,517.79 1063.75,519.71 1070,519.4 C1076.25,519.09 1078.33,518.02 1082.5,516.25 C1086.67,514.48 1090.83,512.29 1095,508.75 C1099.17,505.21 1103.33,500.62 1107.5,495 C1111.67,489.38 1115.83,482.08 1120,475 C1124.17,467.92 1128.33,459.5 1132.5,452.5 C1136.67,445.5 1140.83,438.58 1145,433 C1149.17,427.42 1153.33,423.04 1157.5,419 C1161.67,414.96 1164.79,413.17 1170,408.75 C1175.21,404.33 1182.08,396.46 1188.75,392.5 C1195.42,388.54 1206.46,386.25 1210,385" fill="none" stroke="#000" stroke-width="2.4" stroke-linejoin="round" stroke-linecap="round" />
<path d="M929.5,528 C931.04,526.25 935.33,520.6 938.75,517.5 C942.17,514.4 946.88,509.82 950,509.4 C953.12,508.98 955.25,511.9 957.5,515 C959.75,518.1 962.5,525.83 963.5,528" fill="none" stroke="#000" stroke-width="2.4" stroke-linejoin="round" stroke-linecap="round" />
<path d="M1113.5,528 C1116.25,523.96 1126.21,508.32 1130,503.75 C1133.79,499.18 1133.75,499.56 1136.25,500.6 C1138.75,501.64 1141.04,505.43 1145,510 C1148.96,514.57 1157.5,525 1160,528" fill="none" stroke="#000" stroke-width="2.4" stroke-linejoin="round" stroke-linecap="round" />
</g>
<line x1="880.7" y1="281.2" x2="1209.3" y2="281.2" stroke="#111" stroke-width="2.6" stroke-dasharray="11.6 11.8"/>
<line x1="1070.6" y1="283.7" x2="1070.6" y2="237.5" stroke="#f00" stroke-width="2.8" />
<polygon points="1070.6,225.5 1066.2,239.5 1075,239.5" fill="#f00"/>
<text transform="translate(1083.6 275.6)" font-family='"Liberation Sans", Arial, sans-serif' font-size="26" font-weight="bold" text-anchor="start" >1.13eV</text>
<rect x="880.7" y="35.6" width="328.6" height="491.7" fill="none" stroke="#000" stroke-width="2.6"/>
<line x1="880.7" y1="132.85" x2="888.7" y2="132.85" stroke="#000" stroke-width="2.6" />
<line x1="880.7" y1="207.02" x2="885.2" y2="207.02" stroke="#000" stroke-width="2.6" />
<line x1="880.7" y1="281.2" x2="888.7" y2="281.2" stroke="#000" stroke-width="2.6" />
<line x1="880.7" y1="355.38" x2="885.2" y2="355.38" stroke="#000" stroke-width="2.6" />
<line x1="880.7" y1="429.55" x2="888.7" y2="429.55" stroke="#000" stroke-width="2.6" />
<line x1="880.7" y1="503.73" x2="885.2" y2="503.73" stroke="#000" stroke-width="2.6" />
<line x1="880.7" y1="58.67" x2="885.2" y2="58.67" stroke="#000" stroke-width="2.6" />
<text transform="translate(870.7 142.05)" font-family='"Liberation Sans", Arial, sans-serif' font-size="28" font-weight="bold" text-anchor="end" >3</text>
<text transform="translate(870.7 290.4)" font-family='"Liberation Sans", Arial, sans-serif' font-size="28" font-weight="bold" text-anchor="end" >0</text>
<text transform="translate(870.7 438.75)" font-family='"Liberation Sans", Arial, sans-serif' font-size="28" font-weight="bold" text-anchor="end" >-3</text>
<text transform="translate(881.5 560.5)" font-family='"Liberation Sans", Arial, sans-serif' font-size="28" font-weight="bold" text-anchor="middle" >Γ</text>
<text transform="translate(1001.5 560.5)" font-family='"Liberation Sans", Arial, sans-serif' font-size="28" font-weight="bold" text-anchor="middle" >M</text>
<text transform="translate(1071 560.5)" font-family='"Liberation Sans", Arial, sans-serif' font-size="28" font-weight="bold" text-anchor="middle" >K</text>
<text transform="translate(1209.5 560.5)" font-family='"Liberation Sans", Arial, sans-serif' font-size="28" font-weight="bold" text-anchor="middle" >Γ</text>
<text transform="translate(1045 611.8)" font-family='"Liberation Sans", Arial, sans-serif' font-size="30.5" font-weight="bold" text-anchor="middle" >WTe<tspan font-size="20" dy="8">2</tspan></text>
<text transform="translate(831.5 281) rotate(-90)" font-family='"Liberation Sans", Arial, sans-serif' font-size="30" font-weight="bold" text-anchor="middle" >Energy (eV)</text>
<text transform="translate(832.5 26)" font-family='"Liberation Serif", "Times New Roman", serif' font-size="34.5" font-weight="normal" text-anchor="start" >(b)</text>
<clipPath id="cbd"><rect x="1256.2" y="35.3" width="328.8" height="492"/></clipPath>
<g clip-path="url(#cbd)">
<path d="M1259.6,35.03 L1259.6,181.89 L1262.38,185.82 L1259.6,189.98 L1259.6,228.14" fill="none" stroke="#3f5fe0" stroke-width="1.5" stroke-linejoin="round" stroke-linecap="round" />
<path d="M1257.75,35.03 L1258.21,228.14" fill="none" stroke="#5fe6c8" stroke-width="1.6" stroke-linejoin="round" stroke-linecap="round" />
<path d="M1258.91,89.38 L1264.69,96.32 L1290.13,99.09 L1264.69,102.1 L1260.06,112.51 L1267,121.76 L1262.38,135.63 L1264.69,149.51 L1269.32,170.32 L1276.25,179.57 L1264.69,186.51 L1262.38,205.01 L1267,211.95 L1260.06,223.52" fill="none" stroke="#f4a6ec" stroke-width="1.6" stroke-linejoin="round" stroke-linecap="round" />
<path d="M1261.22,66.25 L1262.38,87.07 L1276.25,94.01 L1329.44,98.63 L1276.25,102.1 L1262.38,107.88 L1262.38,124.07 L1267,147.2 L1276.25,158.76 L1283.19,168.01 L1292.44,172.64 L1278.57,177.26 L1310.94,178.42 L1278.57,181.89 L1401.14,185.82 L1262.38,191.14 L1276.25,195.76 L1287.82,202.7 L1292.44,206.17 L1276.25,209.64 L1262.38,221.2 L1257.75,226.98" fill="none" stroke="#9ed630" stroke-width="1.8" stroke-linejoin="round" stroke-linecap="round" />
<path d="M1297.07,35.03 L1297.07,38.5 L1290.13,39.66 L1287.82,43.13 L1282.04,47.75 L1280.88,61.63 L1285.5,66.25 L1287.82,69.72 L1285.5,75.5 L1292.44,77.82 L1287.82,82.44 L1284.35,87.07 L1299.38,90.54 L1322.51,94.01 L1334.07,97.47 L1440.45,99.09 L1334.07,100.94 L1299.38,104.41 L1287.82,107.88 L1280.88,111.35 L1293.6,115.98 L1278.57,121.76 L1292.44,124.07 L1283.19,127.54 L1280.88,131.01 L1279.72,137.95 L1285.5,144.88 L1294.75,151.82 L1304.01,158.76 L1313.26,165.7 L1329.44,168.01 L1350.26,171.48 L1341.01,172.64 L1320.19,173.79 L1327.13,176.11 L1389.57,177.96 L1329.44,179.57 L1317.88,180.73 L1331.76,183.04 L1391.89,185.36 L1544.52,186.05 L1391.89,186.74 L1276.25,189.98 L1262.38,192.29 L1297.07,195.76 L1317.88,196.92 L1299.38,199.23 L1322.51,205.01 L1334.07,207.79 L1310.94,210.8 L1294.75,216.58 L1287.82,220.05 L1276.25,221.2 L1264.69,223.52 L1260.06,226.98 L1256.13,227.45" fill="none" stroke="#000" stroke-width="2.1" stroke-linejoin="round" stroke-linecap="round" />
<path d="M1257.29,283.88 L1257.29,527.17" fill="none" stroke="#5fe6c8" stroke-width="1.8" stroke-linejoin="round" stroke-linecap="round" />
<path d="M1258.68,283.88 L1258.68,527.17" fill="none" stroke="#f07070" stroke-width="1.4" stroke-linejoin="round" stroke-linecap="round" />
<path d="M1257.75,283.88 L1262.38,293.13 L1276.25,302.38 L1287.82,305.15 L1276.25,308.16 L1264.69,311.63 L1269.32,316.25 L1276.25,319.72 L1264.69,325.5 L1264.69,334.75 L1271.63,344.01 L1276.25,362.51 L1280.88,371.76 L1304.01,373.61 L1276.25,375.23 L1264.69,378.7 L1267,390.26 L1276.25,402.98 L1269.32,420.32 L1264.69,431.89 L1276.25,439.98 L1262.38,442.29 L1262.38,450.39 L1276.25,458.48 L1264.69,461.95 L1267,473.52 L1280.88,479.3 L1264.69,482.77 L1264.69,492.02 L1267,501.27 L1269.32,510.52 L1290.13,517.46 L1299.38,519.77 L1267,522.08 L1262.38,527.17" fill="none" stroke="#f4a6ec" stroke-width="1.6" stroke-linejoin="round" stroke-linecap="round" />
<path d="M1257.29,283.88 L1260.06,290.81 L1271.63,300.06 L1267,307 L1287.82,312.78 L1271.63,316.25 L1294.75,313.94 L1276.25,323.19 L1262.38,330.13 L1264.69,339.38 L1269.32,350.94 L1271.63,362.51 L1276.25,369.44 L1285.5,372.91 L1271.63,376.38 L1264.69,390.26 L1267,399.51 L1278.57,402.98 L1269.32,408.76 L1264.69,431.89 L1267,439.98 L1262.38,445.76 L1264.69,455.01 L1271.63,458.48 L1264.69,466.58 L1267,478.14 L1269.32,482.77 L1262.38,492.02 L1264.69,501.27 L1269.32,510.52 L1271.63,517.46 L1262.38,522.08 L1260.06,527.17" fill="none" stroke="#9ed630" stroke-width="1.8" stroke-linejoin="round" stroke-linecap="round" />
<path d="M1256.13,282.72 L1260.06,283.88 L1267,288.5 L1276.25,295.44 L1294.75,301.22 L1322.51,304.69 L1354.88,305.38 L1322.51,307 L1299.38,310.47 L1292.44,312.78 L1334.07,313.94 L1310.94,315.79 L1317.88,317.41 L1299.38,318.57 L1276.25,323.19 L1327.13,325.5 L1294.75,326.66 L1283.19,331.29 L1290.13,334.75 L1299.38,339.38 L1306.32,344.01 L1317.88,342.85 L1304.01,346.32 L1310.94,349.79 L1327.13,353.26 L1313.26,355.57 L1310.94,357.88 L1320.19,362.51 L1334.07,364.82 L1324.82,367.13 L1327.13,369.44 L1345.63,371.76 L1394.2,374.07 L1322.51,375.23 L1313.26,376.38 L1299.38,377.54 L1278.57,379.85 L1280.88,383.32 L1285.5,387.95 L1290.13,394.88 L1297.07,400.67 L1306.32,404.14 L1317.88,403.67 L1304.01,406.45 L1297.07,411.07 L1295.91,420.32 L1297.07,429.57 L1301.69,436.51 L1327.13,439.52 L1304.01,440.44 L1287.82,442.29 L1270.47,444.61 L1269.32,452.7 L1271.63,455.01 L1299.38,456.17 L1374.54,457.33 L1341.01,459.64 L1304.01,461.95 L1299.38,468.89 L1287.82,474.67 L1308.63,478.14 L1341.01,480.92 L1294.75,481.61 L1271.63,483.92 L1268.16,487.39 L1269.32,496.64 L1273.94,500.11 L1285.5,502.42 L1294.75,504.74 L1304.01,508.21 L1313.26,510.52 L1310.94,512.83 L1322.51,515.14 L1401.14,518.61 L1299.38,520.93 L1276.25,523.24 L1276.25,527.17" fill="none" stroke="#000" stroke-width="2.1" stroke-linejoin="round" stroke-linecap="round" />
</g>
<line x1="1256.2" y1="281.2" x2="1585" y2="281.2" stroke="#111" stroke-width="2.6" stroke-dasharray="11.6 11.5"/>
<rect x="1256.2" y="35.3" width="328.8" height="492" fill="none" stroke="#000" stroke-width="2.6"/>
<line x1="1442.8" y1="74.8" x2="1501.8" y2="74.8" stroke="#000" stroke-width="3.0" />
<text transform="translate(1508.3 83.6)" font-family='"Liberation Sans", Arial, sans-serif' font-size="25.5" font-weight="bold" text-anchor="start" >WTe<tspan font-size="17" dy="6.5">2</tspan></text>
<line x1="1442.8" y1="110.2" x2="1501.8" y2="110.2" stroke="#3f5fe0" stroke-width="2.6" />
<text transform="translate(1508.3 119)" font-family='"Liberation Sans", Arial, sans-serif' font-size="25.5" font-weight="bold" text-anchor="start" >W-s</text>
<line x1="1442.8" y1="140.3" x2="1501.8" y2="140.3" stroke="#f07070" stroke-width="2.6" />
<text transform="translate(1508.3 149.1)" font-family='"Liberation Sans", Arial, sans-serif' font-size="25.5" font-weight="bold" text-anchor="start" >W-p</text>
<line x1="1442.8" y1="170.8" x2="1501.8" y2="170.8" stroke="#9ed630" stroke-width="2.6" />
<text transform="translate(1508.3 179.6)" font-family='"Liberation Sans", Arial, sans-serif' font-size="25.5" font-weight="bold" text-anchor="start" >W-d</text>
<line x1="1442.8" y1="201.5" x2="1501.8" y2="201.5" stroke="#5fe6c8" stroke-width="2.6" />
<text transform="translate(1508.3 210.3)" font-family='"Liberation Sans", Arial, sans-serif' font-size="25.5" font-weight="bold" text-anchor="start" >Te-s</text>
<line x1="1442.8" y1="231.6" x2="1501.8" y2="231.6" stroke="#f4a6ec" stroke-width="2.6" />
<text transform="translate(1508.3 240.4)" font-family='"Liberation Sans", Arial, sans-serif' font-size="25.5" font-weight="bold" text-anchor="start" >Te-p</text>
<line x1="1256.1" y1="527.3" x2="1256.1" y2="519.8" stroke="#000" stroke-width="2.6" />
<text transform="translate(1256.1 559)" font-family='"Liberation Sans", Arial, sans-serif' font-size="28" font-weight="bold" text-anchor="middle" >0</text>
<line x1="1338.3" y1="527.3" x2="1338.3" y2="519.8" stroke="#000" stroke-width="2.6" />
<text transform="translate(1338.3 559)" font-family='"Liberation Sans", Arial, sans-serif' font-size="28" font-weight="bold" text-anchor="middle" >5</text>
<line x1="1420.5" y1="527.3" x2="1420.5" y2="519.8" stroke="#000" stroke-width="2.6" />
<text transform="translate(1420.5 559)" font-family='"Liberation Sans", Arial, sans-serif' font-size="28" font-weight="bold" text-anchor="middle" >10</text>
<line x1="1502.7" y1="527.3" x2="1502.7" y2="519.8" stroke="#000" stroke-width="2.6" />
<text transform="translate(1502.7 559)" font-family='"Liberation Sans", Arial, sans-serif' font-size="28" font-weight="bold" text-anchor="middle" >15</text>
<line x1="1584.9" y1="527.3" x2="1584.9" y2="519.8" stroke="#000" stroke-width="2.6" />
<text transform="translate(1584.9 559)" font-family='"Liberation Sans", Arial, sans-serif' font-size="28" font-weight="bold" text-anchor="middle" >20</text>
<line x1="1297.2" y1="527.3" x2="1297.2" y2="522.8" stroke="#000" stroke-width="2.6" />
<line x1="1379.4" y1="527.3" x2="1379.4" y2="522.8" stroke="#000" stroke-width="2.6" />
<line x1="1461.6" y1="527.3" x2="1461.6" y2="522.8" stroke="#000" stroke-width="2.6" />
<line x1="1543.8" y1="527.3" x2="1543.8" y2="522.8" stroke="#000" stroke-width="2.6" />
<text transform="translate(1421 610)" font-family='"Liberation Sans", Arial, sans-serif' font-size="30" font-weight="bold" text-anchor="middle" >DOS and PDOS (a.u.)</text>
<clipPath id="cc"><rect x="77.5" y="645.8" width="328.7" height="491.2"/></clipPath>
<g clip-path="url(#cc)">
<line x1="197.5" y1="645.8" x2="197.5" y2="1137" stroke="#bfbfbf" stroke-width="2.2" />
<line x1="266.9" y1="645.8" x2="266.9" y2="1137" stroke="#bfbfbf" stroke-width="2.2" />
<path d="M75,669 L83.8,662.7 L90.4,653.9 L96.2,645.9 L98,642" fill="none" stroke="#8c8c8c" stroke-width="1.0" stroke-linejoin="round" stroke-linecap="round" />
<path d="M96.2,645.9 L101.9,659.4 L108.75,695 L115,719.4 L121.25,740 L128.1,754.4 L134.4,765 L140.6,770 L146.9,770.6 L153.1,766.9 L159.4,761.9 L165.6,755.6 L171.9,753.1 L178.75,771.9 L185,792.5 L191.25,806.25 L197.5,811.25 L207.5,812.5 L220,815 L232.5,822.5 L245,835 L255,850 L263.75,862.5 L266.9,866 L274.4,857.5 L281.9,838.75 L289.4,814.4 L296.9,786.9 L303.75,757 L311.25,725 L318.75,690 L325.6,655 L328,645" fill="none" stroke="#8c8c8c" stroke-width="1.0" stroke-linejoin="round" stroke-linecap="round" />
<path d="M96.2,650 L102.1,669.3 L108.7,674.4 L114.9,684.7 L121.1,690.5 L127.7,692 L134.3,686.9 L140.9,679.9 L147.1,671.5 L153.3,662 L159.2,649.5 L161,644" fill="none" stroke="#8c8c8c" stroke-width="1.0" stroke-linejoin="round" stroke-linecap="round" />
<path d="M113.5,644 L114.9,647.3 L121.1,659.8 L128.4,674.4 L134.3,686.9 L140.9,697.8 L147.1,706.6 L153.3,714.7 L159.2,719 L165.8,722.7 L170,723.1 L182.5,723.75 L195,723.75 L197.5,724 L207.5,725 L220,730 L232.5,738.5 L245,753.5 L255,766.5 L266.9,774.4 L273.75,770 L281.25,763.1 L289.4,754.4 L296.9,754.4 L303.75,763 L311.25,776.25 L318.75,788.75 L326.25,795 L333.75,793.1 L341.25,784.4 L348.75,770 L355,753.75 L362.5,733.75 L369.4,710 L376.25,683.1 L383.1,651.9 L385,645" fill="none" stroke="#8c8c8c" stroke-width="1.0" stroke-linejoin="round" stroke-linecap="round" />
<path d="M121.1,656.8 L127.7,667.1 L134.3,675.9 L140.9,690.5 L147.1,698.6 L153.3,706.6 L159.2,714.7 L165,722 L170,728" fill="none" stroke="#8c8c8c" stroke-width="1.0" stroke-linejoin="round" stroke-linecap="round" />
<path d="M153.3,662 L159.4,680 L165.6,710 L170,733.75 L178.75,736.25 L185,736.9 L191.25,738.75 L197.5,739.4 L201.25,737.5 L205,732.5 L208.75,720 L215,695 L220,672 L222.5,655 L225,644" fill="none" stroke="#8c8c8c" stroke-width="1.0" stroke-linejoin="round" stroke-linecap="round" />
<path d="M188.75,717.5 L201.25,712.5 L213.75,701.25 L226.25,687.5 L238.75,672.5 L251.25,657.5 L261.25,645.6 L263,643" fill="none" stroke="#8c8c8c" stroke-width="1.0" stroke-linejoin="round" stroke-linecap="round" />
<path d="M222.5,655 L226.25,667.5 L233.75,692.5 L237.5,703.75 L241.25,713.75 L245,721.9 L248.75,728.75 L252.5,733.75 L256.25,738.75 L261.25,741.9 L266.9,742.5 L273.75,740.6 L281.25,736.25 L289.4,729.4 L296.9,721.9 L303.75,715 L310.6,708.1 L318.75,706.25 L325.6,705 L333.1,706.25 L340,708.1 L347.5,706.9 L355,705 L361.9,697.5 L369.4,686.25 L376.9,670 L383.75,651.9 L386,645" fill="none" stroke="#8c8c8c" stroke-width="1.0" stroke-linejoin="round" stroke-linecap="round" />
<path d="M270,645 L275.6,650 L281.25,660.6 L289.4,678.1 L296.9,691.9 L303.75,698.75 L310.6,705 L318.75,708.1 L325.6,713.75 L333.1,716.9 L340,716.25 L347.5,708.1 L355,695 L361.9,675.6 L369.4,653.75 L372,645" fill="none" stroke="#8c8c8c" stroke-width="1.0" stroke-linejoin="round" stroke-linecap="round" />
<path d="M388,645 L391.25,651.9 L398.75,661.9 L403.75,668.75 L408,674" fill="none" stroke="#8c8c8c" stroke-width="1.0" stroke-linejoin="round" stroke-linecap="round" />
<path d="M77.5,948 L88.75,950 L96.25,952.5 L102.5,955 L108.75,958.1 L115,960 L121.25,962.5 L127.5,966.9 L133.75,971.25 L140.6,981.25 L146.9,988.75 L153.1,993.75 L159.4,997.5 L165.6,996.9 L171.9,993.1 L178.75,986.9 L185,980 L191.25,973.75 L197.5,971.25 L203.75,974.4 L208.75,980 L213.75,987.5 L220,987.5 L232.5,976.25 L245,958.75 L257.5,935 L266.9,922.5 L274.4,931.25 L281.9,949.4 L289.4,970 L296.9,992.5 L303.75,1008.75 L311.25,1012.5 L318.75,1005.6 L326.25,995.6 L333.1,986.25 L340,976.9 L347.5,969.4 L355,963.75 L362.5,960 L370,958.1 L377.5,956.9 L383.75,958.75 L391.25,957.5 L398.75,959.4 L408,960" fill="none" stroke="#8c8c8c" stroke-width="1.0" stroke-linejoin="round" stroke-linecap="round" />
<path d="M77.5,960 L88.75,958.1 L96.25,959.4 L102.5,967.5 L108.75,977.5 L115,988.75 L121.25,987.5 L127.5,980 L133.75,970 L140.6,960 L146.9,949.4 L153.1,940.6 L158.75,932.5 L165,925 L170,918.75 L182.5,912.5 L197.5,910 L207.5,913.75 L220,918.1 L232.5,915 L245,905 L257.5,895 L266.9,891.9 L273.75,895.6 L281.9,902.5 L289.4,910.6 L296.9,918.75 L303.75,924.4 L311.25,926.9 L318.75,926.9 L326.25,928.1 L333.1,932.5 L340,940 L347.5,948.1 L355,955 L362.5,958.1 L370,956.25 L376.25,952.5 L383.75,950.6 L391.25,949.4 L398.75,948.75 L408,948" fill="none" stroke="#8c8c8c" stroke-width="1.0" stroke-linejoin="round" stroke-linecap="round" />
<path d="M77.5,1024.4 L88.75,1021.25 L96.25,1017.5 L102.5,1012.5 L108.75,1006.25 L115,998.1 L121.25,998.75 L128.75,1001.25 L135,1010 L141.25,1020.6 L147.5,1030 L153.75,1035.6 L159.4,1038.75 L165.6,1038.75 L172.5,1033.75 L178.75,1026.25 L185,1017.5 L191.25,1009.4 L198.75,1006.9 L205,1007.5 L211.9,1013.1 L216.25,1023.1 L219.4,1036.25 L223.1,1051.9 L226.9,1071.9 L230.6,1088.1 L234.4,1105.6 L238.1,1120.6 L242.5,1138" fill="none" stroke="#8c8c8c" stroke-width="1.0" stroke-linejoin="round" stroke-linecap="round" />
<path d="M115,990 L122.5,1000 L128.75,1011.25 L135,1022.5 L141.25,1033.75 L147.5,1044.4 L153.75,1053.1 L159.4,1061.25 L165.6,1068.1 L172.5,1075 L178.75,1078.1 L185,1082.5 L191.25,1085.6 L198.75,1086.25 L205,1090 L211.25,1098.75 L216.25,1105 L220,1111.25 L223.75,1118.1 L227.5,1125.6 L232,1138" fill="none" stroke="#8c8c8c" stroke-width="1.0" stroke-linejoin="round" stroke-linecap="round" />
<path d="M77.5,1022 L81.25,1024.4 L90,1033.75 L96.25,1045.6 L102.5,1060.6 L108.75,1078.75 L115,1100 L121.25,1116.9 L127.5,1130 L131,1138" fill="none" stroke="#8c8c8c" stroke-width="1.0" stroke-linejoin="round" stroke-linecap="round" />
<path d="M145,1138 L153.1,1120 L159.4,1106.25 L165.6,1093.1 L171.25,1082.5 L178.75,1077.5 L185,1072.5 L191.25,1071.25 L198.75,1070 L207.5,1067.5 L223.1,1063.75 L238.75,1063.1 L251.25,1065 L266.9,1066.6 L273.75,1065.6 L281.25,1062.5 L288.75,1058.75 L296.25,1053.75 L303.75,1051.25 L311.25,1060 L318.75,1076.9 L325.6,1063.75 L332.5,1041.9 L340,1022.5 L347.5,1007.5 L355,998.1 L362.5,997.5 L370,1001.25 L377.5,1008.75 L385,1015 L391.25,1020 L398.75,1023.75 L408,1025" fill="none" stroke="#8c8c8c" stroke-width="1.0" stroke-linejoin="round" stroke-linecap="round" />
<path d="M302,1138 L311.25,1112.5 L318.75,1087.5 L325.6,1095.6 L332.5,1106.25 L340,1100.6 L347.5,1078.75 L355,1051.9 L362.5,1025 L369.4,1001.9 L377.5,980 L385,966.25 L391.25,960 L398.75,958 L408,957" fill="none" stroke="#8c8c8c" stroke-width="1.0" stroke-linejoin="round" stroke-linecap="round" />
<path d="M356,1138 L361.9,1118.75 L369.4,1093.1 L376.25,1070.6 L383.75,1052.5 L391.25,1037.5 L398.75,1026.25 L408,1025" fill="none" stroke="#8c8c8c" stroke-width="1.0" stroke-linejoin="round" stroke-linecap="round" />
<path d="M360.5,1138 L368.75,1108.75 L376.25,1088.75 L383.75,1074.4 L391.25,1062.5 L398.75,1057.5 L408,1053.75" fill="none" stroke="#8c8c8c" stroke-width="1.0" stroke-linejoin="round" stroke-linecap="round" />
<path d="M338,1138 L347.5,1126.25 L354.4,1118.1 L361.9,1110 L369.4,1101.25 L376.25,1093.75 L383.75,1087.5 L391.25,1082.5 L398.75,1078.75 L408,1077.5" fill="none" stroke="#8c8c8c" stroke-width="1.0" stroke-linejoin="round" stroke-linecap="round" />
<path d="M379,1138 L383.75,1114.4 L391.25,1085 L398.75,1061.25 L406,1055" fill="none" stroke="#8c8c8c" stroke-width="1.0" stroke-linejoin="round" stroke-linecap="round" />
<path d="M77.5,1054 L88.75,1060 L96.25,1068.75 L102.5,1078.75 L108.75,1090 L115,1102.5 L121.25,1117.5 L127.5,1131.25 L130,1138" fill="none" stroke="#8c8c8c" stroke-width="1.0" stroke-linejoin="round" stroke-linecap="round" />
<path d="M77.5,1056 L88.75,1075 L96.25,1101.25 L102.5,1132.5 L103.5,1138" fill="none" stroke="#8c8c8c" stroke-width="1.0" stroke-linejoin="round" stroke-linecap="round" />
<path d="M77.5,1077 L88.75,1080 L96.25,1085 L102.5,1090 L108.75,1097.5 L115,1106.25 L121.25,1115 L127.5,1126.25 L131.25,1138" fill="none" stroke="#8c8c8c" stroke-width="1.0" stroke-linejoin="round" stroke-linecap="round" />
<circle cx="77.5" cy="667.21" r="4.08" fill="#4a62ea"/>
<circle cx="83.82" cy="662.68" r="4.08" fill="#4a62ea"/>
<circle cx="90.13" cy="654.26" r="4.08" fill="#4a62ea"/>
<circle cx="96.45" cy="645.36" r="4.08" fill="#4a62ea"/>
<circle cx="96.45" cy="646.49" r="2.76" fill="#f26666"/>
<circle cx="102.76" cy="663.89" r="2.73" fill="#f26666"/>
<circle cx="109.08" cy="696.28" r="2.7" fill="#f26666"/>
<circle cx="115.39" cy="720.7" r="2.67" fill="#f26666"/>
<circle cx="121.71" cy="740.97" r="2.63" fill="#f26666"/>
<circle cx="128.03" cy="754.25" r="2.6" fill="#f26666"/>
<circle cx="134.34" cy="764.9" r="2.57" fill="#f26666"/>
<circle cx="140.66" cy="770.01" r="2.54" fill="#f26666"/>
<circle cx="146.97" cy="770.56" r="2.51" fill="#f26666"/>
<circle cx="153.29" cy="766.75" r="2.48" fill="#f26666"/>
<circle cx="159.61" cy="761.69" r="2.45" fill="#f26666"/>
<circle cx="165.92" cy="755.47" r="2.42" fill="#f26666"/>
<circle cx="172.24" cy="754.02" r="1.93" fill="#4a62ea"/>
<circle cx="178.55" cy="771.36" r="1.58" fill="#4a62ea"/>
<circle cx="184.87" cy="792.07" r="1.62" fill="#4a62ea"/>
<circle cx="191.18" cy="806.11" r="1.65" fill="#4a62ea"/>
<circle cx="197.5" cy="811.25" r="2.88" fill="#4a62ea"/>
<circle cx="201.15" cy="811.71" r="4.08" fill="#4a62ea"/>
<circle cx="204.81" cy="812.16" r="4.08" fill="#4a62ea"/>
<circle cx="208.46" cy="812.69" r="4.08" fill="#4a62ea"/>
<circle cx="212.11" cy="813.42" r="4.08" fill="#4a62ea"/>
<circle cx="215.76" cy="814.15" r="4.08" fill="#4a62ea"/>
<circle cx="219.42" cy="814.88" r="4.08" fill="#4a62ea"/>
<circle cx="223.07" cy="816.84" r="4.08" fill="#4a62ea"/>
<circle cx="226.72" cy="819.03" r="4.08" fill="#4a62ea"/>
<circle cx="230.37" cy="821.22" r="4.08" fill="#4a62ea"/>
<circle cx="234.03" cy="824.03" r="4.08" fill="#4a62ea"/>
<circle cx="237.68" cy="827.68" r="4.08" fill="#4a62ea"/>
<circle cx="241.33" cy="831.33" r="4.08" fill="#4a62ea"/>
<circle cx="244.98" cy="834.98" r="4.08" fill="#4a62ea"/>
<circle cx="248.64" cy="840.46" r="4.08" fill="#4a62ea"/>
<circle cx="252.29" cy="845.93" r="4.08" fill="#4a62ea"/>
<circle cx="255.94" cy="851.35" r="4.08" fill="#4a62ea"/>
<circle cx="259.59" cy="856.56" r="4.08" fill="#4a62ea"/>
<circle cx="263.25" cy="861.78" r="4.08" fill="#4a62ea"/>
<circle cx="266.9" cy="866" r="4.08" fill="#4a62ea"/>
<circle cx="274.23" cy="857.69" r="3.86" fill="#4a62ea"/>
<circle cx="281.56" cy="839.59" r="3.52" fill="#4a62ea"/>
<circle cx="288.89" cy="816.04" r="3.17" fill="#4a62ea"/>
<circle cx="296.23" cy="789.37" r="3.02" fill="#4a62ea"/>
<circle cx="303.56" cy="757.84" r="2.9" fill="#4a62ea"/>
<circle cx="310.89" cy="726.54" r="2.88" fill="#4a62ea"/>
<circle cx="318.22" cy="692.47" r="2.88" fill="#4a62ea"/>
<circle cx="325.55" cy="655.24" r="2.88" fill="#4a62ea"/>
<circle cx="96.45" cy="650.81" r="3.12" fill="#f26666"/>
<circle cx="102.76" cy="669.81" r="3.12" fill="#f26666"/>
<circle cx="109.08" cy="675.03" r="3.12" fill="#f26666"/>
<circle cx="115.39" cy="685.16" r="3.12" fill="#f26666"/>
<circle cx="121.71" cy="690.64" r="3.12" fill="#f26666"/>
<circle cx="128.03" cy="691.75" r="3.12" fill="#f26666"/>
<circle cx="134.34" cy="686.86" r="3.12" fill="#f26666"/>
<circle cx="140.66" cy="680.16" r="3.12" fill="#f26666"/>
<circle cx="146.97" cy="671.67" r="3.12" fill="#f26666"/>
<circle cx="153.29" cy="662.02" r="3.12" fill="#f26666"/>
<circle cx="159.61" cy="648.26" r="3.12" fill="#f26666"/>
<circle cx="115.39" cy="648.3" r="2.88" fill="#f26666"/>
<circle cx="121.71" cy="661.02" r="2.88" fill="#f26666"/>
<circle cx="128.03" cy="673.65" r="2.88" fill="#f26666"/>
<circle cx="134.34" cy="686.97" r="2.88" fill="#f26666"/>
<circle cx="140.66" cy="697.4" r="2.88" fill="#f26666"/>
<circle cx="146.97" cy="706.42" r="2.88" fill="#f26666"/>
<circle cx="153.29" cy="714.69" r="2.88" fill="#f26666"/>
<circle cx="159.61" cy="719.23" r="2.88" fill="#f26666"/>
<circle cx="165.92" cy="722.71" r="2.95" fill="#f26666"/>
<circle cx="172.24" cy="723.22" r="3.4" fill="#f26666"/>
<circle cx="178.55" cy="723.54" r="3.68" fill="#f26666"/>
<circle cx="184.87" cy="723.75" r="3.81" fill="#f26666"/>
<circle cx="191.18" cy="723.75" r="3.95" fill="#f26666"/>
<circle cx="197.5" cy="724" r="4.08" fill="#f26666"/>
<circle cx="201.15" cy="724.37" r="4.1" fill="#f26666"/>
<circle cx="204.81" cy="724.73" r="4.12" fill="#f26666"/>
<circle cx="208.46" cy="725.38" r="4.14" fill="#f26666"/>
<circle cx="212.11" cy="726.84" r="4.16" fill="#f26666"/>
<circle cx="215.76" cy="728.31" r="4.17" fill="#f26666"/>
<circle cx="219.42" cy="729.77" r="4.19" fill="#f26666"/>
<circle cx="223.07" cy="732.09" r="4.21" fill="#f26666"/>
<circle cx="226.72" cy="734.57" r="4.23" fill="#f26666"/>
<circle cx="230.37" cy="737.05" r="4.25" fill="#f26666"/>
<circle cx="234.03" cy="740.33" r="4.27" fill="#f26666"/>
<circle cx="237.68" cy="744.71" r="4.29" fill="#f26666"/>
<circle cx="241.33" cy="749.1" r="4.31" fill="#f26666"/>
<circle cx="244.98" cy="753.48" r="4.33" fill="#f26666"/>
<circle cx="248.64" cy="758.23" r="4.35" fill="#f26666"/>
<circle cx="252.29" cy="762.98" r="4.36" fill="#f26666"/>
<circle cx="255.94" cy="767.13" r="4.38" fill="#f26666"/>
<circle cx="259.59" cy="769.55" r="4.4" fill="#f26666"/>
<circle cx="263.25" cy="771.98" r="4.42" fill="#f26666"/>
<circle cx="266.9" cy="774.4" r="4.44" fill="#f26666"/>
<circle cx="274.23" cy="769.56" r="3.9" fill="#f26666"/>
<circle cx="281.56" cy="762.77" r="3.68" fill="#f26666"/>
<circle cx="288.89" cy="754.94" r="3.5" fill="#f26666"/>
<circle cx="296.23" cy="754.4" r="3.31" fill="#f26666"/>
<circle cx="303.56" cy="762.76" r="3.13" fill="#f26666"/>
<circle cx="310.89" cy="775.61" r="2.29" fill="#f26666"/>
<circle cx="318.22" cy="787.87" r="2.21" fill="#f26666"/>
<circle cx="325.55" cy="794.42" r="2.15" fill="#f26666"/>
<circle cx="332.88" cy="793.32" r="2.08" fill="#f26666"/>
<circle cx="340.22" cy="785.6" r="2.01" fill="#f26666"/>
<circle cx="347.55" cy="772.31" r="1.94" fill="#f26666"/>
<circle cx="354.88" cy="754.06" r="2.1" fill="#f26666"/>
<circle cx="362.21" cy="734.52" r="2.36" fill="#f26666"/>
<circle cx="369.54" cy="709.44" r="2.62" fill="#f26666"/>
<circle cx="376.87" cy="680.26" r="3.08" fill="#f26666"/>
<circle cx="384.21" cy="647.89" r="3.55" fill="#f26666"/>
<circle cx="121.71" cy="657.75" r="1.32" fill="#4a62ea"/>
<circle cx="128.03" cy="667.54" r="1.32" fill="#4a62ea"/>
<circle cx="134.34" cy="675.99" r="1.32" fill="#4a62ea"/>
<circle cx="140.66" cy="689.96" r="1.32" fill="#4a62ea"/>
<circle cx="146.97" cy="698.43" r="1.32" fill="#4a62ea"/>
<circle cx="153.29" cy="706.59" r="1.32" fill="#4a62ea"/>
<circle cx="159.61" cy="715.21" r="1.32" fill="#4a62ea"/>
<circle cx="165.92" cy="723.11" r="1.32" fill="#4a62ea"/>
<circle cx="159.61" cy="680.99" r="2.9" fill="#4a62ea"/>
<circle cx="165.92" cy="711.73" r="2.64" fill="#4a62ea"/>
<circle cx="172.24" cy="734.39" r="1.44" fill="#4a62ea"/>
<circle cx="178.55" cy="736.19" r="1.44" fill="#4a62ea"/>
<circle cx="184.87" cy="736.89" r="1.44" fill="#4a62ea"/>
<circle cx="191.18" cy="738.73" r="1.44" fill="#4a62ea"/>
<circle cx="197.5" cy="739.4" r="1.44" fill="#4a62ea"/>
<circle cx="201.15" cy="737.55" r="1.44" fill="#4a62ea"/>
<circle cx="204.81" cy="732.76" r="1.44" fill="#4a62ea"/>
<circle cx="208.46" cy="720.97" r="1.44" fill="#4a62ea"/>
<circle cx="212.11" cy="706.56" r="1.44" fill="#4a62ea"/>
<circle cx="215.76" cy="691.49" r="1.44" fill="#4a62ea"/>
<circle cx="219.42" cy="674.69" r="1.44" fill="#4a62ea"/>
<circle cx="223.07" cy="652.5" r="1.44" fill="#4a62ea"/>
<circle cx="191.18" cy="716.53" r="3.48" fill="#f26666"/>
<circle cx="197.5" cy="714" r="3.48" fill="#f26666"/>
<circle cx="201.15" cy="712.54" r="3.48" fill="#f26666"/>
<circle cx="204.81" cy="709.3" r="3.48" fill="#f26666"/>
<circle cx="208.46" cy="706.01" r="3.48" fill="#f26666"/>
<circle cx="212.11" cy="702.73" r="3.48" fill="#f26666"/>
<circle cx="215.76" cy="699.04" r="3.48" fill="#f26666"/>
<circle cx="219.42" cy="695.02" r="3.48" fill="#f26666"/>
<circle cx="223.07" cy="691" r="3.48" fill="#f26666"/>
<circle cx="226.72" cy="686.93" r="3.48" fill="#f26666"/>
<circle cx="230.37" cy="682.55" r="3.48" fill="#f26666"/>
<circle cx="234.03" cy="678.17" r="3.48" fill="#f26666"/>
<circle cx="237.68" cy="673.79" r="3.48" fill="#f26666"/>
<circle cx="241.33" cy="669.4" r="3.48" fill="#f26666"/>
<circle cx="244.98" cy="665.02" r="3.48" fill="#f26666"/>
<circle cx="248.64" cy="660.64" r="3.48" fill="#f26666"/>
<circle cx="252.29" cy="656.26" r="3.48" fill="#f26666"/>
<circle cx="255.94" cy="651.92" r="3.48" fill="#f26666"/>
<circle cx="259.59" cy="647.57" r="3.48" fill="#f26666"/>
<circle cx="223.07" cy="656.89" r="1.68" fill="#f26666"/>
<circle cx="226.72" cy="669.07" r="1.69" fill="#f26666"/>
<circle cx="230.37" cy="681.25" r="1.71" fill="#f26666"/>
<circle cx="234.03" cy="693.33" r="1.72" fill="#f26666"/>
<circle cx="237.68" cy="704.23" r="1.73" fill="#f26666"/>
<circle cx="241.33" cy="713.93" r="1.74" fill="#f26666"/>
<circle cx="244.98" cy="721.87" r="1.75" fill="#f26666"/>
<circle cx="248.64" cy="728.54" r="1.76" fill="#f26666"/>
<circle cx="252.29" cy="733.47" r="1.77" fill="#f26666"/>
<circle cx="255.94" cy="738.34" r="1.78" fill="#f26666"/>
<circle cx="259.59" cy="740.86" r="1.8" fill="#f26666"/>
<circle cx="263.25" cy="742.11" r="1.81" fill="#f26666"/>
<circle cx="266.9" cy="742.5" r="1.82" fill="#f26666"/>
<circle cx="274.23" cy="740.32" r="1.84" fill="#f26666"/>
<circle cx="281.56" cy="735.99" r="1.86" fill="#f26666"/>
<circle cx="288.89" cy="729.82" r="1.89" fill="#f26666"/>
<circle cx="296.23" cy="722.57" r="1.91" fill="#f26666"/>
<circle cx="303.56" cy="715.19" r="2.01" fill="#f26666"/>
<circle cx="310.89" cy="708.03" r="2.18" fill="#f26666"/>
<circle cx="318.22" cy="706.37" r="2.36" fill="#f26666"/>
<circle cx="325.55" cy="705.01" r="2.53" fill="#f26666"/>
<circle cx="332.88" cy="706.21" r="2.68" fill="#f26666"/>
<circle cx="340.22" cy="708.07" r="2.77" fill="#f26666"/>
<circle cx="347.55" cy="706.89" r="2.87" fill="#f26666"/>
<circle cx="354.88" cy="705.03" r="2.96" fill="#f26666"/>
<circle cx="362.21" cy="697.03" r="3.05" fill="#f26666"/>
<circle cx="369.54" cy="685.94" r="3.15" fill="#f26666"/>
<circle cx="376.87" cy="670.06" r="3.24" fill="#f26666"/>
<circle cx="384.21" cy="650.5" r="3.34" fill="#f26666"/>
<circle cx="274.23" cy="648.78" r="3.12" fill="#f26666"/>
<circle cx="281.56" cy="661.27" r="3.12" fill="#f26666"/>
<circle cx="288.89" cy="677.02" r="3.12" fill="#f26666"/>
<circle cx="296.23" cy="690.66" r="3.12" fill="#f26666"/>
<circle cx="303.56" cy="698.56" r="3.12" fill="#f26666"/>
<circle cx="310.89" cy="705.11" r="3.12" fill="#f26666"/>
<circle cx="318.22" cy="707.9" r="3.12" fill="#f26666"/>
<circle cx="325.55" cy="713.71" r="3.12" fill="#f26666"/>
<circle cx="332.88" cy="716.81" r="3.12" fill="#f26666"/>
<circle cx="340.22" cy="716.02" r="3.12" fill="#f26666"/>
<circle cx="347.55" cy="708.02" r="3.12" fill="#f26666"/>
<circle cx="354.88" cy="695.21" r="3.12" fill="#f26666"/>
<circle cx="362.21" cy="674.7" r="3.12" fill="#f26666"/>
<circle cx="369.54" cy="653.27" r="3.12" fill="#f26666"/>
<circle cx="391.54" cy="652.28" r="4.32" fill="#4a62ea"/>
<circle cx="398.87" cy="662.06" r="4.32" fill="#4a62ea"/>
<circle cx="406.2" cy="671.78" r="4.32" fill="#4a62ea"/>
<circle cx="77.5" cy="948" r="2.88" fill="#f26666"/>
<circle cx="83.82" cy="949.12" r="2.85" fill="#f26666"/>
<circle cx="90.13" cy="950.46" r="2.82" fill="#f26666"/>
<circle cx="96.45" cy="952.58" r="2.8" fill="#f26666"/>
<circle cx="102.76" cy="955.13" r="2.77" fill="#f26666"/>
<circle cx="109.08" cy="958.2" r="2.74" fill="#f26666"/>
<circle cx="115.39" cy="960.16" r="2.71" fill="#f26666"/>
<circle cx="121.71" cy="962.82" r="2.69" fill="#f26666"/>
<circle cx="128.03" cy="967.27" r="2.66" fill="#f26666"/>
<circle cx="134.34" cy="972.11" r="2.63" fill="#f26666"/>
<circle cx="140.66" cy="981.32" r="2.6" fill="#f26666"/>
<circle cx="146.97" cy="988.81" r="2.58" fill="#f26666"/>
<circle cx="153.29" cy="993.86" r="2.55" fill="#f26666"/>
<circle cx="159.61" cy="997.48" r="2.52" fill="#f26666"/>
<circle cx="165.92" cy="996.71" r="2.73" fill="#f26666"/>
<circle cx="172.24" cy="992.8" r="2.96" fill="#f26666"/>
<circle cx="178.55" cy="987.08" r="3.19" fill="#f26666"/>
<circle cx="184.87" cy="980.15" r="3.42" fill="#f26666"/>
<circle cx="191.18" cy="973.82" r="3.6" fill="#f26666"/>
<circle cx="197.5" cy="971.25" r="3.6" fill="#f26666"/>
<circle cx="201.15" cy="973.09" r="3.6" fill="#f26666"/>
<circle cx="204.81" cy="975.58" r="3.6" fill="#f26666"/>
<circle cx="208.46" cy="979.67" r="3.6" fill="#f26666"/>
<circle cx="212.11" cy="985.04" r="3.79" fill="#4a62ea"/>
<circle cx="215.76" cy="987.5" r="3.96" fill="#4a62ea"/>
<circle cx="219.42" cy="987.5" r="3.97" fill="#4a62ea"/>
<circle cx="223.07" cy="984.74" r="3.98" fill="#4a62ea"/>
<circle cx="226.72" cy="981.45" r="3.99" fill="#4a62ea"/>
<circle cx="230.37" cy="978.16" r="4" fill="#4a62ea"/>
<circle cx="234.03" cy="974.11" r="4.01" fill="#4a62ea"/>
<circle cx="237.68" cy="969" r="4.01" fill="#4a62ea"/>
<circle cx="241.33" cy="963.89" r="4.02" fill="#4a62ea"/>
<circle cx="244.98" cy="958.77" r="4.03" fill="#4a62ea"/>
<circle cx="248.64" cy="951.84" r="4.04" fill="#4a62ea"/>
<circle cx="252.29" cy="944.9" r="4.05" fill="#4a62ea"/>
<circle cx="255.94" cy="937.96" r="4.06" fill="#4a62ea"/>
<circle cx="259.59" cy="932.21" r="4.06" fill="#4a62ea"/>
<circle cx="263.25" cy="927.36" r="4.07" fill="#4a62ea"/>
<circle cx="266.9" cy="922.5" r="4.08" fill="#4a62ea"/>
<circle cx="274.23" cy="931.05" r="3.65" fill="#4a62ea"/>
<circle cx="281.56" cy="948.58" r="3.22" fill="#4a62ea"/>
<circle cx="288.89" cy="968.61" r="2.8" fill="#4a62ea"/>
<circle cx="296.23" cy="990.48" r="2.38" fill="#4a62ea"/>
<circle cx="303.56" cy="1008.29" r="2.02" fill="#f26666"/>
<circle cx="310.89" cy="1012.32" r="2.44" fill="#f26666"/>
<circle cx="318.22" cy="1006.09" r="3.07" fill="#f26666"/>
<circle cx="325.55" cy="996.53" r="3.49" fill="#f26666"/>
<circle cx="332.88" cy="986.54" r="3.91" fill="#f26666"/>
<circle cx="340.22" cy="976.68" r="4.3" fill="#f26666"/>
<circle cx="347.55" cy="969.36" r="3.78" fill="#f26666"/>
<circle cx="354.88" cy="963.84" r="3.25" fill="#f26666"/>
<circle cx="362.21" cy="960.14" r="2.87" fill="#f26666"/>
<circle cx="369.54" cy="958.22" r="2.83" fill="#f26666"/>
<circle cx="376.87" cy="957" r="2.8" fill="#f26666"/>
<circle cx="384.21" cy="958.67" r="2.76" fill="#f26666"/>
<circle cx="391.54" cy="957.57" r="2.72" fill="#f26666"/>
<circle cx="398.87" cy="959.41" r="2.69" fill="#f26666"/>
<circle cx="406.2" cy="959.88" r="2.65" fill="#f26666"/>
<circle cx="77.5" cy="960" r="3.11" fill="#f26666"/>
<circle cx="83.82" cy="958.93" r="3.03" fill="#f26666"/>
<circle cx="90.13" cy="958.34" r="2.94" fill="#f26666"/>
<circle cx="96.45" cy="959.66" r="2.86" fill="#f26666"/>
<circle cx="102.76" cy="967.92" r="2.77" fill="#f26666"/>
<circle cx="109.08" cy="978.09" r="2.68" fill="#f26666"/>
<circle cx="115.39" cy="988.67" r="2.6" fill="#f26666"/>
<circle cx="121.71" cy="986.95" r="2.51" fill="#f26666"/>
<circle cx="128.03" cy="979.16" r="2.43" fill="#f26666"/>
<circle cx="134.34" cy="969.14" r="2.47" fill="#f26666"/>
<circle cx="140.66" cy="959.9" r="2.57" fill="#f26666"/>
<circle cx="146.97" cy="949.3" r="2.67" fill="#f26666"/>
<circle cx="153.29" cy="940.33" r="2.77" fill="#f26666"/>
<circle cx="159.61" cy="931.47" r="2.87" fill="#f26666"/>
<circle cx="165.92" cy="923.85" r="3.16" fill="#f26666"/>
<circle cx="172.24" cy="917.63" r="3.47" fill="#f26666"/>
<circle cx="178.55" cy="914.47" r="3.77" fill="#f26666"/>
<circle cx="184.87" cy="912.11" r="3.94" fill="#f26666"/>
<circle cx="191.18" cy="911.05" r="4.07" fill="#f26666"/>
<circle cx="197.5" cy="910" r="4.2" fill="#f26666"/>
<circle cx="201.15" cy="911.37" r="4.2" fill="#f26666"/>
<circle cx="204.81" cy="912.74" r="4.2" fill="#f26666"/>
<circle cx="208.46" cy="914.08" r="4.2" fill="#f26666"/>
<circle cx="212.11" cy="915.35" r="4.2" fill="#f26666"/>
<circle cx="215.76" cy="916.63" r="4.2" fill="#f26666"/>
<circle cx="219.42" cy="917.9" r="4.2" fill="#f26666"/>
<circle cx="223.07" cy="917.34" r="4.2" fill="#f26666"/>
<circle cx="226.72" cy="916.43" r="4.2" fill="#f26666"/>
<circle cx="230.37" cy="915.53" r="4.2" fill="#f26666"/>
<circle cx="234.03" cy="913.78" r="4.2" fill="#f26666"/>
<circle cx="237.68" cy="910.86" r="4.2" fill="#f26666"/>
<circle cx="241.33" cy="907.93" r="4.2" fill="#f26666"/>
<circle cx="244.98" cy="905.01" r="4.2" fill="#f26666"/>
<circle cx="248.64" cy="902.09" r="4.2" fill="#f26666"/>
<circle cx="252.29" cy="899.17" r="4.2" fill="#f26666"/>
<circle cx="255.94" cy="896.25" r="4.2" fill="#f26666"/>
<circle cx="259.59" cy="894.31" r="4.2" fill="#f26666"/>
<circle cx="263.25" cy="893.1" r="4.2" fill="#f26666"/>
<circle cx="266.9" cy="891.9" r="4.2" fill="#f26666"/>
<circle cx="274.23" cy="896.01" r="2.68" fill="#f26666"/>
<circle cx="281.56" cy="902.21" r="2.51" fill="#f26666"/>
<circle cx="288.89" cy="910.05" r="2.49" fill="#f26666"/>
<circle cx="296.23" cy="918.02" r="2.47" fill="#f26666"/>
<circle cx="303.56" cy="924.24" r="2.46" fill="#f26666"/>
<circle cx="310.89" cy="926.78" r="2.44" fill="#f26666"/>
<circle cx="318.22" cy="926.9" r="2.43" fill="#f26666"/>
<circle cx="325.55" cy="927.99" r="2.41" fill="#f26666"/>
<circle cx="332.88" cy="932.36" r="2.42" fill="#f26666"/>
<circle cx="340.22" cy="940.23" r="2.48" fill="#f26666"/>
<circle cx="347.55" cy="948.14" r="2.54" fill="#f26666"/>
<circle cx="354.88" cy="954.89" r="2.6" fill="#f26666"/>
<circle cx="362.21" cy="957.98" r="2.66" fill="#f26666"/>
<circle cx="369.54" cy="956.36" r="2.72" fill="#f26666"/>
<circle cx="376.87" cy="952.34" r="2.77" fill="#f26666"/>
<circle cx="384.21" cy="950.53" r="2.83" fill="#f26666"/>
<circle cx="391.54" cy="949.38" r="2.9" fill="#f26666"/>
<circle cx="398.87" cy="948.74" r="3" fill="#f26666"/>
<circle cx="406.2" cy="948.15" r="3.1" fill="#f26666"/>
<circle cx="77.5" cy="1024.4" r="2.88" fill="#f26666"/>
<circle cx="83.82" cy="1022.63" r="2.91" fill="#f26666"/>
<circle cx="90.13" cy="1020.56" r="2.93" fill="#f26666"/>
<circle cx="96.45" cy="1017.34" r="2.95" fill="#f26666"/>
<circle cx="102.76" cy="1012.24" r="2.98" fill="#f26666"/>
<circle cx="109.08" cy="1005.82" r="3" fill="#f26666"/>
<circle cx="115.39" cy="998.14" r="3.03" fill="#f26666"/>
<circle cx="121.71" cy="998.9" r="3.05" fill="#f26666"/>
<circle cx="128.03" cy="1001.01" r="3.07" fill="#f26666"/>
<circle cx="134.34" cy="1009.08" r="3.1" fill="#f26666"/>
<circle cx="140.66" cy="1019.6" r="3.12" fill="#f26666"/>
<circle cx="146.97" cy="1029.21" r="3.07" fill="#f26666"/>
<circle cx="153.29" cy="1035.19" r="3.03" fill="#f26666"/>
<circle cx="159.61" cy="1038.75" r="2.99" fill="#f26666"/>
<circle cx="165.92" cy="1038.52" r="2.95" fill="#f26666"/>
<circle cx="172.24" cy="1033.94" r="2.91" fill="#f26666"/>
<circle cx="178.55" cy="1026.49" r="1.81" fill="#4a62ea"/>
<circle cx="184.87" cy="1017.68" r="1.2" fill="#4a62ea"/>
<circle cx="191.18" cy="1009.49" r="1.2" fill="#4a62ea"/>
<circle cx="197.5" cy="1007.32" r="1.2" fill="#4a62ea"/>
<circle cx="201.15" cy="1007.13" r="1.2" fill="#4a62ea"/>
<circle cx="204.81" cy="1007.48" r="2.36" fill="#f26666"/>
<circle cx="208.46" cy="1010.31" r="3.18" fill="#f26666"/>
<circle cx="212.11" cy="1013.58" r="3.27" fill="#f26666"/>
<circle cx="215.76" cy="1021.98" r="3.37" fill="#f26666"/>
<circle cx="219.42" cy="1036.32" r="3.46" fill="#f26666"/>
<circle cx="223.07" cy="1051.77" r="3.55" fill="#f26666"/>
<circle cx="226.72" cy="1070.96" r="3.55" fill="#f26666"/>
<circle cx="230.37" cy="1087.11" r="3.45" fill="#f26666"/>
<circle cx="234.03" cy="1103.88" r="3.35" fill="#f26666"/>
<circle cx="237.68" cy="1118.89" r="3.24" fill="#f26666"/>
<circle cx="241.33" cy="1133.38" r="3.14" fill="#f26666"/>
<circle cx="115.39" cy="990.53" r="2.4" fill="#f26666"/>
<circle cx="121.71" cy="998.95" r="2.4" fill="#f26666"/>
<circle cx="128.03" cy="1009.95" r="2.4" fill="#f26666"/>
<circle cx="134.34" cy="1021.32" r="2.4" fill="#f26666"/>
<circle cx="140.66" cy="1032.68" r="2.4" fill="#f26666"/>
<circle cx="146.97" cy="1043.5" r="2.4" fill="#f26666"/>
<circle cx="153.29" cy="1052.46" r="2.4" fill="#f26666"/>
<circle cx="159.61" cy="1061.48" r="2.4" fill="#f26666"/>
<circle cx="165.92" cy="1068.42" r="2.4" fill="#f26666"/>
<circle cx="172.24" cy="1074.74" r="2.4" fill="#f26666"/>
<circle cx="178.55" cy="1078" r="2.4" fill="#f26666"/>
<circle cx="184.87" cy="1082.41" r="2.4" fill="#f26666"/>
<circle cx="191.18" cy="1085.57" r="2.4" fill="#f26666"/>
<circle cx="197.5" cy="1086.14" r="2.4" fill="#f26666"/>
<circle cx="201.15" cy="1087.69" r="2.4" fill="#f26666"/>
<circle cx="204.81" cy="1089.88" r="2.4" fill="#f26666"/>
<circle cx="208.46" cy="1094.84" r="2.4" fill="#f26666"/>
<circle cx="212.11" cy="1099.83" r="2.4" fill="#f26666"/>
<circle cx="215.76" cy="1104.39" r="2.4" fill="#f26666"/>
<circle cx="219.42" cy="1110.28" r="2.4" fill="#f26666"/>
<circle cx="223.07" cy="1116.85" r="2.4" fill="#f26666"/>
<circle cx="226.72" cy="1124.04" r="2.4" fill="#f26666"/>
<circle cx="230.37" cy="1133.52" r="2.4" fill="#f26666"/>
<circle cx="77.5" cy="1022" r="2.52" fill="#f26666"/>
<circle cx="83.82" cy="1027.14" r="2.52" fill="#f26666"/>
<circle cx="90.13" cy="1034" r="2.52" fill="#f26666"/>
<circle cx="96.45" cy="1046.07" r="2.52" fill="#f26666"/>
<circle cx="102.76" cy="1061.36" r="2.52" fill="#f26666"/>
<circle cx="109.08" cy="1079.87" r="2.52" fill="#f26666"/>
<circle cx="115.39" cy="1101.07" r="2.52" fill="#f26666"/>
<circle cx="121.71" cy="1117.87" r="2.52" fill="#f26666"/>
<circle cx="128.03" cy="1131.2" r="2.52" fill="#f26666"/>
<circle cx="146.97" cy="1133.61" r="1.2" fill="#4a62ea"/>
<circle cx="153.29" cy="1119.59" r="1.2" fill="#4a62ea"/>
<circle cx="159.61" cy="1105.81" r="1.2" fill="#4a62ea"/>
<circle cx="165.92" cy="1092.5" r="1.2" fill="#4a62ea"/>
<circle cx="172.24" cy="1081.84" r="1.2" fill="#4a62ea"/>
<circle cx="178.55" cy="1077.63" r="2.27" fill="#f26666"/>
<circle cx="184.87" cy="1072.61" r="3.18" fill="#f26666"/>
<circle cx="191.18" cy="1071.26" r="3.57" fill="#f26666"/>
<circle cx="197.5" cy="1070.21" r="3.96" fill="#f26666"/>
<circle cx="201.15" cy="1069.31" r="3.96" fill="#f26666"/>
<circle cx="204.81" cy="1068.27" r="3.96" fill="#f26666"/>
<circle cx="208.46" cy="1067.27" r="3.96" fill="#f26666"/>
<circle cx="212.11" cy="1066.39" r="3.96" fill="#f26666"/>
<circle cx="215.76" cy="1065.51" r="3.96" fill="#f26666"/>
<circle cx="219.42" cy="1064.64" r="3.96" fill="#f26666"/>
<circle cx="223.07" cy="1063.76" r="3.96" fill="#f26666"/>
<circle cx="226.72" cy="1063.6" r="3.96" fill="#f26666"/>
<circle cx="230.37" cy="1063.45" r="3.96" fill="#f26666"/>
<circle cx="234.03" cy="1063.3" r="3.96" fill="#f26666"/>
<circle cx="237.68" cy="1063.14" r="3.96" fill="#f26666"/>
<circle cx="241.33" cy="1063.49" r="3.96" fill="#f26666"/>
<circle cx="244.98" cy="1064.05" r="3.96" fill="#f26666"/>
<circle cx="248.64" cy="1064.6" r="3.96" fill="#f26666"/>
<circle cx="252.29" cy="1065.11" r="3.96" fill="#f26666"/>
<circle cx="255.94" cy="1065.48" r="3.96" fill="#f26666"/>
<circle cx="259.59" cy="1065.85" r="3.96" fill="#f26666"/>
<circle cx="263.25" cy="1066.23" r="3.96" fill="#f26666"/>
<circle cx="266.9" cy="1066.6" r="3.96" fill="#f26666"/>
<circle cx="274.23" cy="1065.4" r="2.62" fill="#f26666"/>
<circle cx="281.56" cy="1062.34" r="2.57" fill="#f26666"/>
<circle cx="288.89" cy="1058.65" r="2.52" fill="#f26666"/>
<circle cx="296.23" cy="1053.77" r="2.46" fill="#f26666"/>
<circle cx="303.56" cy="1051.31" r="2.41" fill="#f26666"/>
<circle cx="310.89" cy="1059.58" r="1.52" fill="#4a62ea"/>
<circle cx="318.22" cy="1075.71" r="2.32" fill="#4a62ea"/>
<circle cx="325.55" cy="1063.84" r="3.05" fill="#f26666"/>
<circle cx="332.88" cy="1040.91" r="2.89" fill="#f26666"/>
<circle cx="340.22" cy="1022.07" r="2.74" fill="#f26666"/>
<circle cx="347.55" cy="1007.44" r="2.56" fill="#f26666"/>
<circle cx="354.88" cy="998.25" r="2.32" fill="#f26666"/>
<circle cx="362.21" cy="997.52" r="2.19" fill="#f26666"/>
<circle cx="369.54" cy="1001.02" r="2.3" fill="#f26666"/>
<circle cx="376.87" cy="1008.12" r="2.41" fill="#f26666"/>
<circle cx="384.21" cy="1014.34" r="2.52" fill="#f26666"/>
<circle cx="391.54" cy="1020.14" r="2.63" fill="#f26666"/>
<circle cx="398.87" cy="1023.77" r="2.74" fill="#f26666"/>
<circle cx="406.2" cy="1024.76" r="2.85" fill="#f26666"/>
<circle cx="303.56" cy="1133.71" r="3.17" fill="#f26666"/>
<circle cx="310.89" cy="1113.49" r="3.39" fill="#f26666"/>
<circle cx="318.22" cy="1089.26" r="3.47" fill="#f26666"/>
<circle cx="325.55" cy="1095.54" r="1.2" fill="#4a62ea"/>
<circle cx="332.88" cy="1105.96" r="1.2" fill="#4a62ea"/>
<circle cx="340.22" cy="1099.97" r="2.16" fill="#f26666"/>
<circle cx="347.55" cy="1078.58" r="2.21" fill="#f26666"/>
<circle cx="354.88" cy="1052.33" r="2.27" fill="#f26666"/>
<circle cx="362.21" cy="1026.04" r="2.32" fill="#f26666"/>
<circle cx="369.54" cy="1001.52" r="2.37" fill="#f26666"/>
<circle cx="376.87" cy="981.69" r="2.42" fill="#f26666"/>
<circle cx="384.21" cy="967.71" r="2.47" fill="#f26666"/>
<circle cx="391.54" cy="959.92" r="2.52" fill="#f26666"/>
<circle cx="398.87" cy="957.99" r="2.58" fill="#f26666"/>
<circle cx="406.2" cy="957.19" r="2.63" fill="#f26666"/>
<circle cx="362.21" cy="1117.69" r="2.52" fill="#f26666"/>
<circle cx="369.54" cy="1092.63" r="2.52" fill="#f26666"/>
<circle cx="376.87" cy="1069.09" r="2.52" fill="#f26666"/>
<circle cx="384.21" cy="1051.59" r="2.52" fill="#f26666"/>
<circle cx="391.54" cy="1037.07" r="2.52" fill="#f26666"/>
<circle cx="398.87" cy="1026.23" r="2.52" fill="#f26666"/>
<circle cx="406.2" cy="1025.24" r="2.52" fill="#f26666"/>
<circle cx="362.21" cy="1131.94" r="3.84" fill="#4a62ea"/>
<circle cx="369.54" cy="1106.64" r="3.84" fill="#4a62ea"/>
<circle cx="376.87" cy="1087.56" r="3.84" fill="#4a62ea"/>
<circle cx="384.21" cy="1073.68" r="3.84" fill="#4a62ea"/>
<circle cx="391.54" cy="1062.31" r="3.84" fill="#4a62ea"/>
<circle cx="398.87" cy="1057.45" r="3.84" fill="#4a62ea"/>
<circle cx="406.2" cy="1054.48" r="3.84" fill="#4a62ea"/>
<circle cx="340.22" cy="1135.26" r="2.52" fill="#f26666"/>
<circle cx="347.55" cy="1126.19" r="2.52" fill="#f26666"/>
<circle cx="354.88" cy="1117.58" r="2.52" fill="#f26666"/>
<circle cx="362.21" cy="1109.64" r="2.52" fill="#f26666"/>
<circle cx="369.54" cy="1101.09" r="2.52" fill="#f26666"/>
<circle cx="376.87" cy="1093.23" r="2.52" fill="#f26666"/>
<circle cx="384.21" cy="1087.2" r="2.52" fill="#f26666"/>
<circle cx="391.54" cy="1082.36" r="2.52" fill="#f26666"/>
<circle cx="398.87" cy="1078.73" r="2.52" fill="#f26666"/>
<circle cx="406.2" cy="1077.74" r="2.52" fill="#f26666"/>
<circle cx="384.21" cy="1112.62" r="3.12" fill="#4a62ea"/>
<circle cx="391.54" cy="1084.09" r="3.12" fill="#4a62ea"/>
<circle cx="398.87" cy="1061.15" r="3.12" fill="#4a62ea"/>
<circle cx="77.5" cy="1054" r="3.72" fill="#4a62ea"/>
<circle cx="83.82" cy="1057.37" r="3.72" fill="#4a62ea"/>
<circle cx="90.13" cy="1061.61" r="3.72" fill="#4a62ea"/>
<circle cx="96.45" cy="1069.07" r="3.72" fill="#4a62ea"/>
<circle cx="102.76" cy="1079.22" r="3.72" fill="#4a62ea"/>
<circle cx="109.08" cy="1090.66" r="3.72" fill="#4a62ea"/>
<circle cx="115.39" cy="1103.45" r="3.72" fill="#4a62ea"/>
<circle cx="121.71" cy="1118.51" r="3.72" fill="#4a62ea"/>
<circle cx="128.03" cy="1132.67" r="3.72" fill="#4a62ea"/>
<circle cx="77.5" cy="1056" r="3.6" fill="#4a62ea"/>
<circle cx="83.82" cy="1066.67" r="3.6" fill="#4a62ea"/>
<circle cx="90.13" cy="1079.84" r="3.6" fill="#4a62ea"/>
<circle cx="96.45" cy="1102.24" r="3.6" fill="#4a62ea"/>
<circle cx="102.76" cy="1133.95" r="3.6" fill="#4a62ea"/>
<circle cx="77.5" cy="1077" r="2.88" fill="#f26666"/>
<circle cx="83.82" cy="1078.68" r="2.88" fill="#f26666"/>
<circle cx="90.13" cy="1080.92" r="2.88" fill="#f26666"/>
<circle cx="96.45" cy="1085.16" r="2.88" fill="#f26666"/>
<circle cx="102.76" cy="1090.32" r="2.88" fill="#f26666"/>
<circle cx="109.08" cy="1097.96" r="2.88" fill="#f26666"/>
<circle cx="115.39" cy="1106.8" r="2.88" fill="#f26666"/>
<circle cx="121.71" cy="1115.83" r="2.88" fill="#f26666"/>
<circle cx="128.03" cy="1127.9" r="2.88" fill="#f26666"/>
</g>
<line x1="76.7" y1="891.5" x2="406.2" y2="891.5" stroke="#111" stroke-width="2.6" stroke-dasharray="11.9 11.4"/>
<line x1="266.9" y1="894" x2="266.9" y2="879" stroke="#f00" stroke-width="2.8" />
<polygon points="266.9,867 262.5,881 271.3,881" fill="#f00"/>
<text transform="translate(288 887.8)" font-family='"Liberation Sans", Arial, sans-serif' font-size="26" font-weight="bold" text-anchor="start" >0.33eV</text>
<rect x="77.5" y="645.8" width="328.7" height="491.2" fill="none" stroke="#000" stroke-width="2.6"/>
<line x1="77.5" y1="646.1" x2="85.5" y2="646.1" stroke="#000" stroke-width="2.6" />
<line x1="77.5" y1="768.8" x2="82" y2="768.8" stroke="#000" stroke-width="2.6" />
<line x1="77.5" y1="891.5" x2="85.5" y2="891.5" stroke="#000" stroke-width="2.6" />
<line x1="77.5" y1="1014.2" x2="82" y2="1014.2" stroke="#000" stroke-width="2.6" />
<line x1="77.5" y1="1136.9" x2="85.5" y2="1136.9" stroke="#000" stroke-width="2.6" />
<text transform="translate(66.5 654.4)" font-family='"Liberation Sans", Arial, sans-serif' font-size="28" font-weight="bold" text-anchor="end" >3</text>
<text transform="translate(66.5 899.8)" font-family='"Liberation Sans", Arial, sans-serif' font-size="28" font-weight="bold" text-anchor="end" >0</text>
<text transform="translate(66.5 1145.2)" font-family='"Liberation Sans", Arial, sans-serif' font-size="28" font-weight="bold" text-anchor="end" >-3</text>
<text transform="translate(78.5 1169.5)" font-family='"Liberation Sans", Arial, sans-serif' font-size="28" font-weight="bold" text-anchor="middle" >Γ</text>
<text transform="translate(197.8 1169.5)" font-family='"Liberation Sans", Arial, sans-serif' font-size="28" font-weight="bold" text-anchor="middle" >M</text>
<text transform="translate(267.5 1169.5)" font-family='"Liberation Sans", Arial, sans-serif' font-size="28" font-weight="bold" text-anchor="middle" >K</text>
<text transform="translate(406.5 1169.5)" font-family='"Liberation Sans", Arial, sans-serif' font-size="28" font-weight="bold" text-anchor="middle" >Γ</text>
<text transform="translate(242 1219.5)" font-family='"Liberation Sans", Arial, sans-serif' font-size="30.5" font-weight="bold" text-anchor="middle" >BAs/WTe<tspan font-size="20" dy="8">2</tspan></text>
<text transform="translate(22.8 874) rotate(-90)" font-family='"Liberation Sans", Arial, sans-serif' font-size="30" font-weight="bold" text-anchor="middle" >Energy (eV)</text>
<text transform="translate(31.8 613.8)" font-family='"Liberation Serif", "Times New Roman", serif' font-size="35.5" font-weight="normal" text-anchor="start" >(c)</text>
<clipPath id="ccd"><rect x="453.2" y="645.2" width="329.5" height="491.6"/></clipPath>
<g clip-path="url(#ccd)">
<path d="M460.06,646.19 L464.69,657.75 L462.38,662.38 L457.75,671.63 L460.06,687.82 L462.38,699.38 L460.06,722.51 L456.6,734.07 L455.44,750.26 L457.75,759.51 L461.22,771.07 L455.44,773.39 L454.28,791.89 L457.75,801.14 L463.53,815.01 L460.06,819.64 L458.91,833.52 L455.44,849.7 L453.13,861.27 L453.13,891.33" fill="none" stroke="#3c5ae0" stroke-width="1.7" stroke-linejoin="round" stroke-linecap="round" />
<path d="M462.38,646.19 L464.69,657.75 L467,662.38 L480.88,665.85 L471.63,668.16 L457.75,670.47 L457.75,680.88 L460.06,686.66 L476.25,688.97 L473.94,692.44 L472.78,699.38 L473.94,719.04 L490.13,720.19 L517.88,722.04 L499.38,724.82 L492.44,728.29 L504.01,731.76 L501.69,745.63 L487.82,749.1 L476.25,754.88 L473.94,759.51 L467,761.82 L469.32,768.76 L487.82,771.07 L469.32,773.39 L469.32,787.26 L462.38,789.57 L469.32,794.2 L471.63,799.98 L460.06,801.14 L456.6,810.39 L454.28,826.58 L453.13,861.27 L453.13,891.33" fill="none" stroke="#f05a5a" stroke-width="1.8" stroke-linejoin="round" stroke-linecap="round" />
<path d="M480.88,646.19 L492.44,657.75 L497.07,661.22 L510.94,664.69 L543.32,667 L510.94,668.85 L476.25,670.47 L469.32,673.94 L471.63,685.5 L499.38,688.97 L524.82,690.13 L506.32,691.98 L504.01,697.07 L502.85,704.01 L504.01,719.04 L534.07,720.19 L575.7,722.04 L534.07,723.66 L522.51,727.13 L524.82,729.44 L543.32,732.91 L541.01,743.32 L517.88,747.95 L506.32,751.42 L497.07,753.73 L494.75,757.2 L485.5,760.67 L490.13,764.14 L501.69,768.76 L536.38,771.54 L499.38,772.92 L480.88,774.54 L478.57,778.01 L480.88,787.26 L485.5,787.26 L473.94,789.57 L483.19,793.04 L492.44,797.67 L487.82,799.98 L480.88,805.76 L478.57,815.01 L476.25,819.64 L469.32,826.58 L462.38,833.52 L460.06,838.14 L457.75,847.39 L456.6,861.27 L455.44,868.21 L453.13,869.36" fill="none" stroke="#000" stroke-width="2.1" stroke-linejoin="round" stroke-linecap="round" />
<path d="M453.13,896.19 L454.28,949.38 L455.44,972.51 L460.06,984.07 L464.69,993.32 L483.19,995.17 L455.44,996.79 L454.28,1018.76 L455.44,1041.89 L458.91,1058.08 L460.06,1065.01 L458.91,1088.14 L462.38,1111.27 L464.69,1115.89 L460.06,1122.83 L457.75,1137.17" fill="none" stroke="#3c5ae0" stroke-width="1.7" stroke-linejoin="round" stroke-linecap="round" />
<path d="M453.13,896.19 L460.06,900.81 L464.69,905.44 L487.82,912.38 L499.38,915.85 L494.75,920.47 L476.25,922.78 L464.69,923.94 L462.38,940.13 L469.32,944.75 L487.82,947.07 L543.32,949.38 L487.82,951.69 L480.88,954.01 L510.94,955.16 L476.25,956.32 L472.78,963.26 L470.47,970.19 L473.94,977.13 L478.57,986.38 L485.5,993.32 L517.88,995.63 L531.76,996.79 L464.69,997.95 L467,1000.26 L468.16,1011.82 L471.63,1018.76 L476.25,1028.01 L485.5,1031.48 L483.19,1044.2 L487.82,1046.51 L473.94,1053.45 L497.07,1056.92 L504.01,1059.23 L478.57,1061.54 L468.16,1065.01 L467,1071.95 L471.63,1076.58 L472.78,1088.14 L476.25,1108.95 L490.13,1115.89 L476.25,1120.52 L469.32,1129.77 L468.16,1137.17" fill="none" stroke="#f05a5a" stroke-width="1.8" stroke-linejoin="round" stroke-linecap="round" />
<path d="M453.13,895.03 L460.06,896.19 L471.63,903.13 L490.13,907.75 L510.94,911.22 L531.76,914.69 L538.7,917 L534.07,918.16 L506.32,921.63 L476.25,925.1 L470.47,926.25 L469.32,940.13 L473.94,944.75 L499.38,947.07 L545.63,949.38 L594.2,950.07 L545.63,951.69 L510.94,954.01 L538.7,955.16 L499.38,956.32 L487.82,958.63 L488.97,967.88 L485.5,971.35 L490.13,974.82 L499.38,979.44 L510.94,986.38 L522.51,991.01 L541.01,994.48 L626.58,996.1 L522.51,997.95 L476.25,1000.26 L479.72,1002.57 L480.88,1011.82 L485.5,1016.45 L492.44,1021.07 L499.38,1028.01 L504.01,1031.48 L520.19,1032.64 L508.63,1041.89 L515.57,1045.36 L504.01,1048.83 L490.13,1053.45 L504.01,1055.76 L539.85,1059.23 L506.32,1061.54 L490.13,1062.7 L487.82,1071.95 L492.44,1078.89 L494.75,1088.14 L499.38,1108.95 L510.94,1111.27 L535.23,1115.89 L510.94,1120.52 L487.82,1129.77 L486.66,1137.17" fill="none" stroke="#000" stroke-width="2.1" stroke-linejoin="round" stroke-linecap="round" />
</g>
<line x1="453.2" y1="891.4" x2="782.7" y2="891.4" stroke="#111" stroke-width="2.6" stroke-dasharray="11.6 11.5"/>
<rect x="453.2" y="645.2" width="329.5" height="491.6" fill="none" stroke="#000" stroke-width="2.6"/>
<line x1="574.5" y1="737.5" x2="632.4" y2="737.5" stroke="#000" stroke-width="3.0" />
<text transform="translate(640.4 746.3)" font-family='"Liberation Sans", Arial, sans-serif' font-size="25.5" font-weight="bold" text-anchor="start" >BAs/WTe<tspan font-size="17" dy="6.5">2</tspan></text>
<line x1="574.5" y1="773.4" x2="632.4" y2="773.4" stroke="#3c5ae0" stroke-width="2.6" />
<text transform="translate(640.4 782.2)" font-family='"Liberation Sans", Arial, sans-serif' font-size="25.5" font-weight="bold" text-anchor="start" >BAs</text>
<line x1="574.5" y1="803.4" x2="632.4" y2="803.4" stroke="#f05a5a" stroke-width="2.6" />
<text transform="translate(640.4 812.2)" font-family='"Liberation Sans", Arial, sans-serif' font-size="25.5" font-weight="bold" text-anchor="start" >WTe<tspan font-size="17" dy="6.5">2</tspan></text>
<line x1="453.1" y1="1136.8" x2="453.1" y2="1129.3" stroke="#000" stroke-width="2.6" />
<text transform="translate(453.1 1169)" font-family='"Liberation Sans", Arial, sans-serif' font-size="28" font-weight="bold" text-anchor="middle" >0</text>
<line x1="518.8" y1="1136.8" x2="518.8" y2="1129.3" stroke="#000" stroke-width="2.6" />
<text transform="translate(518.8 1169)" font-family='"Liberation Sans", Arial, sans-serif' font-size="28" font-weight="bold" text-anchor="middle" >5</text>
<line x1="584.5" y1="1136.8" x2="584.5" y2="1129.3" stroke="#000" stroke-width="2.6" />
<text transform="translate(584.5 1169)" font-family='"Liberation Sans", Arial, sans-serif' font-size="28" font-weight="bold" text-anchor="middle" >10</text>
<line x1="650.2" y1="1136.8" x2="650.2" y2="1129.3" stroke="#000" stroke-width="2.6" />
<text transform="translate(650.2 1169)" font-family='"Liberation Sans", Arial, sans-serif' font-size="28" font-weight="bold" text-anchor="middle" >15</text>
<line x1="715.9" y1="1136.8" x2="715.9" y2="1129.3" stroke="#000" stroke-width="2.6" />
<text transform="translate(715.9 1169)" font-family='"Liberation Sans", Arial, sans-serif' font-size="28" font-weight="bold" text-anchor="middle" >20</text>
<line x1="781.6" y1="1136.8" x2="781.6" y2="1129.3" stroke="#000" stroke-width="2.6" />
<text transform="translate(781.6 1169)" font-family='"Liberation Sans", Arial, sans-serif' font-size="28" font-weight="bold" text-anchor="middle" >25</text>
<line x1="485.95" y1="1136.8" x2="485.95" y2="1132.3" stroke="#000" stroke-width="2.6" />
<line x1="551.65" y1="1136.8" x2="551.65" y2="1132.3" stroke="#000" stroke-width="2.6" />
<line x1="617.35" y1="1136.8" x2="617.35" y2="1132.3" stroke="#000" stroke-width="2.6" />
<line x1="683.05" y1="1136.8" x2="683.05" y2="1132.3" stroke="#000" stroke-width="2.6" />
<line x1="748.75" y1="1136.8" x2="748.75" y2="1132.3" stroke="#000" stroke-width="2.6" />
<text transform="translate(617.5 1219.5)" font-family='"Liberation Sans", Arial, sans-serif' font-size="30" font-weight="bold" text-anchor="middle" >DOS (a.u.)</text>
<clipPath id="cdu"><rect x="880.3" y="645.3" width="704.7" height="246"/></clipPath>
<g clip-path="url(#cdu)">
<line x1="880.3" y1="890.1" x2="1585" y2="890.1" stroke="#5ee8c6" stroke-width="1.6" />
<path d="M932.5,890.89 L936.25,882.82 L938.13,885.63 L951.25,885.26 L1000.01,886.57 L1011.26,888.45 L1015.01,890.32" fill="none" stroke="#4058e0" stroke-width="1.6" stroke-linejoin="round" stroke-linecap="round" />
<path d="M973.76,890.32 L1000.01,889.01 L1001.88,873.45 L1003.76,887.51 L1015.01,889.76" fill="none" stroke="#ee5e5e" stroke-width="1.6" stroke-linejoin="round" stroke-linecap="round" />
<path d="M930.63,890.89 L936.25,867.82 L938.13,878.13 L951.25,873.45 L958.75,874.38 L973.76,869.7 L985.01,865.01 L1000.01,855.63 L1001.88,748.75 L1002.82,851.88 L1011.26,870.63 L1015.01,880.01 L1015.38,890.89" fill="none" stroke="#96d62e" stroke-width="1.8" stroke-linejoin="round" stroke-linecap="round" />
<path d="M1105.01,890.89 L1116.64,880.01 L1118.51,831.26 L1120.02,867.82 L1133.14,881.88 L1151.89,884.7 L1180.02,887.51" fill="none" stroke="#4058e0" stroke-width="1.6" stroke-linejoin="round" stroke-linecap="round" />
<path d="M1114.39,890.89 L1118.14,885.63 L1120.02,889.38 L1142.52,889.76 L1180.02,890.32" fill="none" stroke="#96d62e" stroke-width="1.6" stroke-linejoin="round" stroke-linecap="round" />
<path d="M1105.01,890.89 L1116.26,883.76 L1118.51,846.26 L1120.02,874.38 L1133.14,883.76 L1180.02,889.38" fill="none" stroke="#5ee8c6" stroke-width="1.8" stroke-linejoin="round" stroke-linecap="round" />
<path d="M1170,889.99 L1187.88,889.99 L1190.63,887.92 L1192.01,875.54 L1197.51,881.05 L1209.89,889.3 L1222.27,889.99 L1225.02,883.8 L1227.77,870.04 L1230.52,874.17 L1244.28,874.17 L1249.78,868.67 L1252.53,881.05 L1258.03,881.05 L1260.78,876.92 L1269.04,876.92 L1277.29,881.05 L1282.79,878.29 L1286.92,871.42 L1291.05,878.29 L1300.67,881.05 L1307.55,878.29 L1314.43,886.55 L1325.43,889.3 L1334.37,890.67 L1335.75,872.79 L1341.94,882.42 L1348.82,887.92 L1355.69,890.67" fill="none" stroke="#ee5e5e" stroke-width="1.7" stroke-linejoin="round" stroke-linecap="round" />
<path d="M1170,889.3 L1187.88,887.92 L1191.32,863.16 L1192.7,874.17 L1197.51,879.67 L1205.76,883.8 L1215.39,889.3 L1222.27,883.8 L1226.4,872.79 L1228.46,850.78 L1230.52,870.04 L1238.78,870.04 L1244.97,868.67 L1249.78,859.04 L1252.53,881.05 L1256.66,881.05 L1259.41,793.01 L1260.78,870.04 L1269.04,871.42 L1274.54,876.92 L1277.29,881.05 L1282.79,872.79 L1286.92,860.41 L1289.67,870.04 L1296.55,874.17 L1303.43,871.42 L1307.55,875.54 L1308.93,870.04 L1311.68,881.05 L1318.56,881.05 L1325.43,887.92 L1330.94,889.3 L1334.37,802.64 L1336.44,864.54 L1341.94,876.92 L1348.82,882.42 L1355.69,886.55 L1359.82,890.67" fill="none" stroke="#5ee8c6" stroke-width="1.8" stroke-linejoin="round" stroke-linecap="round" />
<path d="M1222.27,890.67 L1227.08,883.8 L1228.46,879.67 L1230.52,889.3 L1252.53,889.99 L1274.54,889.3" fill="none" stroke="#4058e0" stroke-width="1.5" stroke-linejoin="round" stroke-linecap="round" />
<path d="M1222.27,890.95 L1228.46,883.8 L1231.21,890.67 L1274.54,890.95" fill="none" stroke="#96d62e" stroke-width="1.5" stroke-linejoin="round" stroke-linecap="round" />
<path d="M1393.76,891.06 L1396.51,889.41 L1414.39,881.16 L1419.89,870.15 L1426.77,885.28 L1429.52,890.1 L1435.02,890.78 L1437.77,882.53 L1446.02,888.03 L1455.65,885.28 L1465.28,879.78 L1476.29,885.28 L1479.04,868.78 L1484.54,879.78 L1490.04,883.91 L1507.92,879.78 L1512.05,886.66 L1525.8,883.91 L1545.06,888.03 L1551.94,890.1" fill="none" stroke="#5ee8c6" stroke-width="1.7" stroke-linejoin="round" stroke-linecap="round" />
<path d="M1435.02,891.06 L1436.4,881.16 L1441.9,886.66 L1451.53,888.03 L1462.53,883.91 L1476.29,882.53 L1479.04,868.78 L1484.54,881.16 L1496.92,888.03 L1510.67,889.41 L1545.06,890.78" fill="none" stroke="#96d62e" stroke-width="1.6" stroke-linejoin="round" stroke-linecap="round" />
<path d="M1436.4,891.06 L1437.77,877.72 L1444.65,888.03 L1448.78,891.06" fill="none" stroke="#4058e0" stroke-width="1.6" stroke-linejoin="round" stroke-linecap="round" />
<path d="M1393.76,891.06 L1396.51,888.03 L1407.51,883.91 L1414.39,874.28 L1419.89,861.9 L1426.77,881.16 L1430.89,889.41 L1432.27,891.06 L1436.4,891.06 L1437.77,888.03 L1446.02,885.28 L1455.65,881.16 L1458.4,877.72 L1468.03,870.15 L1472.16,881.16 L1476.29,881.16 L1479.04,852.96 L1481.79,868.78 L1488.67,872.9 L1490.04,878.4 L1499.67,885.28 L1507.92,870.15 L1510.67,879.78 L1517.55,883.91 L1525.8,877.03 L1528.56,882.53 L1539.56,883.91 L1545.06,870.15 L1547.81,886.66 L1551.94,889.41 L1554.69,891.06" fill="none" stroke="#ee5e5e" stroke-width="1.8" stroke-linejoin="round" stroke-linecap="round" />
</g>
<clipPath id="cdl"><rect x="880.3" y="891.3" width="704.7" height="245.4"/></clipPath>
<g clip-path="url(#cdl)">
<line x1="880.3" y1="1135.2" x2="1585" y2="1135.2" stroke="#5ee8c6" stroke-width="1.6" />
<path d="M949.8,1135.6 L952.97,1134.8 L975.18,1134.01 L983.11,1135.28" fill="none" stroke="#4058e0" stroke-width="1.6" stroke-linejoin="round" stroke-linecap="round" />
<path d="M983.11,1135.28 L1038.63,1134.33 L1044.97,1135.6" fill="none" stroke="#f4a4ec" stroke-width="1.6" stroke-linejoin="round" stroke-linecap="round" />
<path d="M1014.84,1135.6 L1022.77,1134.01 L1029.11,1130.84 L1037.04,1130.84 L1038.15,1114.97 L1039.42,1130.84 L1044.97,1134.01 L1046.56,1135.6" fill="none" stroke="#96d62e" stroke-width="1.6" stroke-linejoin="round" stroke-linecap="round" />
<path d="M949.8,1135.91 L951.38,1134.8 L957.73,1124.49 L959.31,1129.25 L975.18,1126.08 L984.7,1126.08 L989.45,1105.46 L991.04,1113.39 L1006.9,1106.25 L1018.01,1097.53 L1025.94,1088.01 L1028.32,1076.9 L1029.11,1015.04 L1030.7,1076.9 L1037.04,1078.49 L1038.15,960.31 L1039.42,1076.9 L1041.8,1102.28 L1044.97,1118.15 L1046.56,1135.91" fill="none" stroke="#5ee8c6" stroke-width="1.8" stroke-linejoin="round" stroke-linecap="round" />
<path d="M1184,1133.26 L1191,1128.88 L1205.01,1128.01 L1213.76,1129.76 L1226.01,1131.51 L1231.26,1133.26 L1236.51,1135.01" fill="none" stroke="#4058e0" stroke-width="1.6" stroke-linejoin="round" stroke-linecap="round" />
<path d="M1257.51,1135.01 L1275.01,1134.13 L1318.76,1129.76 L1327.51,1133.26 L1336.26,1129.76 L1345.01,1133.26 L1352.01,1128.88 L1359.01,1133.26 L1366.89,1128.01 L1373.01,1133.26 L1376.51,1135.01" fill="none" stroke="#ee5e5e" stroke-width="1.6" stroke-linejoin="round" stroke-linecap="round" />
<path d="M1254.01,1135.01 L1257.51,1133.26 L1259.26,1122.76 L1261.01,1133.26 L1264.51,1135.01" fill="none" stroke="#5ee8c6" stroke-width="1.6" stroke-linejoin="round" stroke-linecap="round" />
<path d="M1184,1135.01 L1191,1133.26 L1201.51,1130.63 L1212.01,1130.63 L1219.01,1122.76 L1222.51,1120.13 L1227.76,1122.76 L1230.38,1128.01 L1240.01,1132.38 L1255.76,1131.51 L1258.38,1087.76 L1260.13,1126.26 L1271.51,1128.01 L1275.01,1124.51 L1283.76,1117.51 L1287.26,1100.01 L1289.01,1114.01 L1301.26,1114.01 L1304.76,1117.51 L1309.14,1072.01 L1311.76,1110.51 L1315.26,1105.26 L1317.89,1098.26 L1320.51,1108.76 L1327.51,1114.01 L1336.26,1100.01 L1345.01,1108.76 L1348.51,1103.51 L1352.01,1061.51 L1353.24,955.62 L1354.64,1065.01 L1357.26,1124.51 L1362.51,1126.26 L1366.89,1073.76 L1369.51,1110.51 L1374.76,1128.01 L1376.51,1133.26 L1380.01,1135.01" fill="none" stroke="#96d62e" stroke-width="1.8" stroke-linejoin="round" stroke-linecap="round" />
<path d="M1177,1135.53 L1184,1134.13 L1191,1124.51 L1191.88,1107.88 L1193.63,1125.38 L1201.51,1124.51 L1203.26,1117.51 L1213.76,1119.26 L1220.76,1100.01 L1222.51,1110.51 L1226.01,1107.01 L1228.63,1091.26 L1230.38,1123.63 L1240.01,1124.51 L1252.26,1125.38 L1259.26,1018.63 L1261.01,1117.51 L1266.26,1126.26 L1271.51,1129.76 L1272.38,1095.63 L1275.01,1117.51 L1278.51,1105.26 L1282.01,1114.01 L1286.38,1088.63 L1289.01,1112.26 L1301.26,1117.51 L1304.76,1119.26 L1308.26,1114.01 L1310.01,1075.51 L1311.76,1110.51 L1314.39,1087.76 L1317.01,1108.76 L1318.76,1094.76 L1322.26,1110.51 L1329.26,1117.51 L1333.64,1115.76 L1335.39,1024.75 L1337.14,1103.51 L1345.01,1117.51 L1350.26,1114.01 L1352.01,1080.76 L1353.76,1065.01 L1355.51,1117.51 L1362.51,1124.51 L1366.89,1072.88 L1369.51,1110.51 L1373.01,1128.01 L1376.51,1133.26" fill="none" stroke="#f4a4ec" stroke-width="1.7" stroke-linejoin="round" stroke-linecap="round" />
<path d="M1415.16,1136.13 L1454.3,1134.62 L1456.56,1127.85 L1458.82,1134.62 L1505.48,1134.62 L1550.64,1135.82" fill="none" stroke="#5ee8c6" stroke-width="1.6" stroke-linejoin="round" stroke-linecap="round" />
<path d="M1475.37,1135.82 L1478.38,1131.61 L1480.64,1128.6 L1482.15,1134.62 L1499.46,1135.37 L1502.47,1131.61 L1505.48,1121.07 L1508.49,1127.09 L1514.51,1130.1 L1520.53,1132.36 L1535.59,1133.11 L1550.64,1135.37 L1558.17,1136.13" fill="none" stroke="#4058e0" stroke-width="1.6" stroke-linejoin="round" stroke-linecap="round" />
<path d="M1412.15,1136.43 L1415.16,1136.13 L1419.68,1128.6 L1424.19,1125.59 L1430.21,1128.6 L1436.24,1127.09 L1440.75,1128.6 L1445.27,1124.08 L1449.78,1115.05 L1454.3,1112.04 L1456.56,1092.47 L1458.82,1118.06 L1463.33,1122.58 L1467.85,1125.59 L1470.86,1131.61 L1475.37,1128.6 L1481.4,1116.56 L1484.41,1125.59 L1490.43,1125.59 L1494.94,1127.09 L1495.7,1063.87 L1497.95,1104.51 L1502.47,1101.5 L1505.48,1112.04 L1511.5,1125.59 L1520.53,1131.61 L1535.59,1134.62 L1543.11,1136.13" fill="none" stroke="#f4a4ec" stroke-width="1.7" stroke-linejoin="round" stroke-linecap="round" />
<path d="M1410.64,1136.43 L1418.17,1133.11 L1419.68,1109.03 L1425.7,1106.77 L1427.96,1104.51 L1430.21,1119.57 L1431.72,1092.47 L1434.73,1101.5 L1436.99,1098.49 L1437.74,1056.34 L1439.25,1110.53 L1440.75,1112.04 L1443.76,1093.98 L1445.27,1072.9 L1447.53,1071.4 L1448.28,1044.3 L1452.04,1039.78 L1453.55,1071.4 L1455.8,1071.4 L1457.31,1027.74 L1458.82,1101.5 L1461.83,1104.51 L1466.34,1103.01 L1468.6,1083.44 L1470.11,1125.59 L1475.37,1128.6 L1478.38,1101.5 L1480.64,1124.08 L1484.41,1125.59 L1488.92,1127.09 L1493.44,1122.58 L1495.7,1103.01 L1500.96,1100 L1502.47,1074.41 L1505.48,1084.94 L1508.49,1098.49 L1511.5,1119.57 L1517.52,1127.09 L1523.55,1130.1 L1525.8,1121.07 L1528.06,1128.6 L1532.58,1131.61 L1535.59,1134.62 L1550.64,1136.13" fill="none" stroke="#96d62e" stroke-width="1.8" stroke-linejoin="round" stroke-linecap="round" />
</g>
<rect x="880.3" y="645.3" width="704.7" height="491.4" fill="none" stroke="#000" stroke-width="2.6"/>
<line x1="880.3" y1="891.3" x2="1585" y2="891.3" stroke="#000" stroke-width="2.6" />
<line x1="880.3" y1="891.3" x2="888.3" y2="891.3" stroke="#000" stroke-width="2.6" />
<line x1="880.3" y1="829.85" x2="884.8" y2="829.85" stroke="#000" stroke-width="2.6" />
<line x1="880.3" y1="768.4" x2="888.3" y2="768.4" stroke="#000" stroke-width="2.6" />
<line x1="880.3" y1="706.95" x2="884.8" y2="706.95" stroke="#000" stroke-width="2.6" />
<line x1="880.3" y1="645.5" x2="888.3" y2="645.5" stroke="#000" stroke-width="2.6" />
<text transform="translate(871 899.6)" font-family='"Liberation Sans", Arial, sans-serif' font-size="28" font-weight="bold" text-anchor="end" >0</text>
<text transform="translate(871 776.7)" font-family='"Liberation Sans", Arial, sans-serif' font-size="28" font-weight="bold" text-anchor="end" >2</text>
<text transform="translate(871 653.8)" font-family='"Liberation Sans", Arial, sans-serif' font-size="28" font-weight="bold" text-anchor="end" >4</text>
<line x1="880.3" y1="1136.7" x2="888.3" y2="1136.7" stroke="#000" stroke-width="2.6" />
<line x1="880.3" y1="1101.55" x2="884.8" y2="1101.55" stroke="#000" stroke-width="2.6" />
<line x1="880.3" y1="1066.4" x2="888.3" y2="1066.4" stroke="#000" stroke-width="2.6" />
<line x1="880.3" y1="1031.25" x2="884.8" y2="1031.25" stroke="#000" stroke-width="2.6" />
<line x1="880.3" y1="996.1" x2="888.3" y2="996.1" stroke="#000" stroke-width="2.6" />
<line x1="880.3" y1="960.95" x2="884.8" y2="960.95" stroke="#000" stroke-width="2.6" />
<line x1="880.3" y1="925.8" x2="888.3" y2="925.8" stroke="#000" stroke-width="2.6" />
<text transform="translate(871 1145)" font-family='"Liberation Sans", Arial, sans-serif' font-size="28" font-weight="bold" text-anchor="end" >0</text>
<text transform="translate(871 1074.7)" font-family='"Liberation Sans", Arial, sans-serif' font-size="28" font-weight="bold" text-anchor="end" >2</text>
<text transform="translate(871 1004.4)" font-family='"Liberation Sans", Arial, sans-serif' font-size="28" font-weight="bold" text-anchor="end" >4</text>
<text transform="translate(871 934.1)" font-family='"Liberation Sans", Arial, sans-serif' font-size="28" font-weight="bold" text-anchor="end" >6</text>
<line x1="894.35" y1="1136.7" x2="894.35" y2="1128.7" stroke="#000" stroke-width="2.6" />
<text transform="translate(894.35 1168.5)" font-family='"Liberation Sans", Arial, sans-serif' font-size="28" font-weight="bold" text-anchor="middle" >-15</text>
<line x1="1054.5" y1="1136.7" x2="1054.5" y2="1128.7" stroke="#000" stroke-width="2.6" />
<text transform="translate(1054.5 1168.5)" font-family='"Liberation Sans", Arial, sans-serif' font-size="28" font-weight="bold" text-anchor="middle" >-10</text>
<line x1="1214.65" y1="1136.7" x2="1214.65" y2="1128.7" stroke="#000" stroke-width="2.6" />
<text transform="translate(1214.65 1168.5)" font-family='"Liberation Sans", Arial, sans-serif' font-size="28" font-weight="bold" text-anchor="middle" >-5</text>
<line x1="1374.8" y1="1136.7" x2="1374.8" y2="1128.7" stroke="#000" stroke-width="2.6" />
<text transform="translate(1374.8 1168.5)" font-family='"Liberation Sans", Arial, sans-serif' font-size="28" font-weight="bold" text-anchor="middle" >0</text>
<line x1="1534.95" y1="1136.7" x2="1534.95" y2="1128.7" stroke="#000" stroke-width="2.6" />
<text transform="translate(1534.95 1168.5)" font-family='"Liberation Sans", Arial, sans-serif' font-size="28" font-weight="bold" text-anchor="middle" >5</text>
<line x1="974.42" y1="1136.7" x2="974.42" y2="1132.2" stroke="#000" stroke-width="2.6" />
<line x1="1134.57" y1="1136.7" x2="1134.57" y2="1132.2" stroke="#000" stroke-width="2.6" />
<line x1="1294.72" y1="1136.7" x2="1294.72" y2="1132.2" stroke="#000" stroke-width="2.6" />
<line x1="1454.88" y1="1136.7" x2="1454.88" y2="1132.2" stroke="#000" stroke-width="2.6" />
<text transform="translate(1232.5 1220.5)" font-family='"Liberation Sans", Arial, sans-serif' font-size="30" font-weight="bold" text-anchor="middle" >Energy (eV)</text>
<text transform="translate(831 898.3) rotate(-90)" font-family='"Liberation Sans", Arial, sans-serif' font-size="30" font-weight="bold" text-anchor="middle" >PDOS (a.u.)</text>
<text transform="translate(832 614.3)" font-family='"Liberation Serif", "Times New Roman", serif' font-size="35.5" font-weight="normal" text-anchor="start" >(d)</text>
<line x1="1421.2" y1="677.5" x2="1479.4" y2="677.5" stroke="#4058e0" stroke-width="2.6" />
<text transform="translate(1487.5 686.3)" font-family='"Liberation Sans", Arial, sans-serif' font-size="25.5" font-weight="bold" text-anchor="start" >B-s</text>
<line x1="1421.2" y1="707.5" x2="1479.4" y2="707.5" stroke="#ee5e5e" stroke-width="2.6" />
<text transform="translate(1487.5 716.3)" font-family='"Liberation Sans", Arial, sans-serif' font-size="25.5" font-weight="bold" text-anchor="start" >B-p</text>
<line x1="1421.2" y1="738.5" x2="1479.4" y2="738.5" stroke="#96d62e" stroke-width="2.6" />
<text transform="translate(1487.5 747.3)" font-family='"Liberation Sans", Arial, sans-serif' font-size="25.5" font-weight="bold" text-anchor="start" >As-s</text>
<line x1="1421.2" y1="768.7" x2="1479.4" y2="768.7" stroke="#5ee8c6" stroke-width="2.6" />
<text transform="translate(1487.5 777.5)" font-family='"Liberation Sans", Arial, sans-serif' font-size="25.5" font-weight="bold" text-anchor="start" >As-p</text>
<line x1="1421.2" y1="905.8" x2="1479.4" y2="905.8" stroke="#4058e0" stroke-width="2.6" />
<text transform="translate(1487.5 914.6)" font-family='"Liberation Sans", Arial, sans-serif' font-size="25.5" font-weight="bold" text-anchor="start" >W-s</text>
<line x1="1421.2" y1="935.9" x2="1479.4" y2="935.9" stroke="#ee5e5e" stroke-width="2.6" />
<text transform="translate(1487.5 944.7)" font-family='"Liberation Sans", Arial, sans-serif' font-size="25.5" font-weight="bold" text-anchor="start" >W-p</text>
<line x1="1421.2" y1="966" x2="1479.4" y2="966" stroke="#96d62e" stroke-width="2.6" />
<text transform="translate(1487.5 974.8)" font-family='"Liberation Sans", Arial, sans-serif' font-size="25.5" font-weight="bold" text-anchor="start" >W-d</text>
<line x1="1421.2" y1="996.1" x2="1479.4" y2="996.1" stroke="#5ee8c6" stroke-width="2.6" />
<text transform="translate(1487.5 1004.9)" font-family='"Liberation Sans", Arial, sans-serif' font-size="25.5" font-weight="bold" text-anchor="start" >Te-s</text>
<line x1="1421.2" y1="1026.2" x2="1479.4" y2="1026.2" stroke="#f4a4ec" stroke-width="2.6" />
<text transform="translate(1487.5 1035)" font-family='"Liberation Sans", Arial, sans-serif' font-size="25.5" font-weight="bold" text-anchor="start" >Te-p</text>
</svg></body></html>
